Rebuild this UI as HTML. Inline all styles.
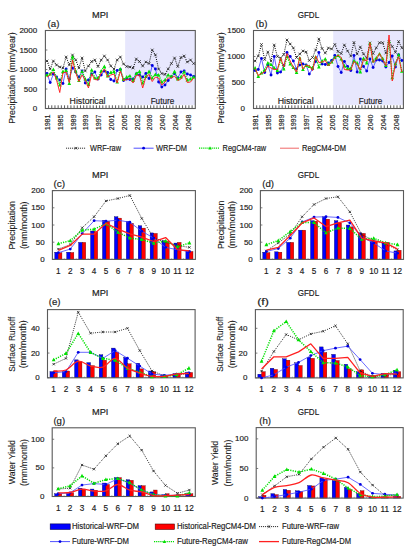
<!DOCTYPE html>
<html><head><meta charset="utf-8"><style>
html,body{margin:0;padding:0;background:#fff;width:410px;height:550px;overflow:hidden}
svg{display:block;font-family:"Liberation Sans", sans-serif}
</style></head><body>
<svg width="410" height="550" viewBox="0 0 410 550">
<rect width="410" height="550" fill="#fff"/>
<text x="100.20" y="18.00" font-size="9.5" text-anchor="middle" fill="#1a1a1a" stroke="#1a1a1a" stroke-width="0.18" textLength="16.4" lengthAdjust="spacingAndGlyphs" >MPI</text>
<text x="308.40" y="18.00" font-size="9.5" text-anchor="middle" fill="#1a1a1a" stroke="#1a1a1a" stroke-width="0.18" textLength="21.5" lengthAdjust="spacingAndGlyphs" >GFDL</text>
<text x="100.20" y="178.20" font-size="9.5" text-anchor="middle" fill="#1a1a1a" stroke="#1a1a1a" stroke-width="0.18" textLength="16.4" lengthAdjust="spacingAndGlyphs" >MPI</text>
<text x="308.40" y="178.20" font-size="9.5" text-anchor="middle" fill="#1a1a1a" stroke="#1a1a1a" stroke-width="0.18" textLength="21.5" lengthAdjust="spacingAndGlyphs" >GFDL</text>
<text x="100.20" y="296.30" font-size="9.5" text-anchor="middle" fill="#1a1a1a" stroke="#1a1a1a" stroke-width="0.18" textLength="16.4" lengthAdjust="spacingAndGlyphs" >MPI</text>
<text x="308.40" y="296.30" font-size="9.5" text-anchor="middle" fill="#1a1a1a" stroke="#1a1a1a" stroke-width="0.18" textLength="21.5" lengthAdjust="spacingAndGlyphs" >GFDL</text>
<text x="100.20" y="414.70" font-size="9.5" text-anchor="middle" fill="#1a1a1a" stroke="#1a1a1a" stroke-width="0.18" textLength="16.4" lengthAdjust="spacingAndGlyphs" >MPI</text>
<text x="308.40" y="414.70" font-size="9.5" text-anchor="middle" fill="#1a1a1a" stroke="#1a1a1a" stroke-width="0.18" textLength="21.5" lengthAdjust="spacingAndGlyphs" >GFDL</text>
<rect x="125.13" y="30.50" width="70.17" height="74.40" fill="#e7e7fd"/>
<path d="M48.59,108.50V105.30M51.78,108.50V105.30M54.97,108.50V105.30M58.16,108.50V105.30M61.35,108.50V105.30M64.54,108.50V105.30M67.73,108.50V105.30M70.91,108.50V105.30M74.10,108.50V105.30M77.29,108.50V105.30M80.48,108.50V105.30M83.67,108.50V105.30M86.86,108.50V105.30M90.05,108.50V105.30M93.24,108.50V105.30M96.43,108.50V105.30M99.62,108.50V105.30M102.81,108.50V105.30M106.00,108.50V105.30M109.19,108.50V105.30M112.38,108.50V105.30M115.57,108.50V105.30M118.76,108.50V105.30M121.94,108.50V105.30M125.13,108.50V105.30M128.32,108.50V105.30M131.51,108.50V105.30M134.70,108.50V105.30M137.89,108.50V105.30M141.08,108.50V105.30M144.27,108.50V105.30M147.46,108.50V105.30M150.65,108.50V105.30M153.84,108.50V105.30M157.03,108.50V105.30M160.22,108.50V105.30M163.41,108.50V105.30M166.60,108.50V105.30M169.79,108.50V105.30M172.97,108.50V105.30M176.16,108.50V105.30M179.35,108.50V105.30M182.54,108.50V105.30M185.73,108.50V105.30M188.92,108.50V105.30M192.11,108.50V105.30" stroke="#333" stroke-width="0.8"/>
<path d="M45.40,30.50H47.40M45.40,50.00H47.40M45.40,69.50H47.40M45.40,89.00H47.40M45.40,108.50H47.40" stroke="#5a5a5a" stroke-width="0.8"/>
<rect x="45.40" y="30.50" width="149.90" height="78.00" fill="none" stroke="#5a5a5a" stroke-width="1.1"/>
<text x="37.20" y="33.40" font-size="8" text-anchor="end" fill="#1a1a1a" stroke="#1a1a1a" stroke-width="0.16" >2000</text>
<text x="37.20" y="52.90" font-size="8" text-anchor="end" fill="#1a1a1a" stroke="#1a1a1a" stroke-width="0.16" >1500</text>
<text x="37.20" y="72.40" font-size="8" text-anchor="end" fill="#1a1a1a" stroke="#1a1a1a" stroke-width="0.16" >1000</text>
<text x="37.20" y="91.90" font-size="8" text-anchor="end" fill="#1a1a1a" stroke="#1a1a1a" stroke-width="0.16" >500</text>
<text x="37.20" y="111.40" font-size="8" text-anchor="end" fill="#1a1a1a" stroke="#1a1a1a" stroke-width="0.16" >0</text>
<text x="49.90" y="114.60" font-size="8" text-anchor="end" fill="#1a1a1a" stroke="#1a1a1a" stroke-width="0.16" textLength="15.6" lengthAdjust="spacingAndGlyphs" transform="rotate(-90 49.90 114.60)" >1981</text>
<text x="62.71" y="114.60" font-size="8" text-anchor="end" fill="#1a1a1a" stroke="#1a1a1a" stroke-width="0.16" textLength="15.6" lengthAdjust="spacingAndGlyphs" transform="rotate(-90 62.71 114.60)" >1985</text>
<text x="75.52" y="114.60" font-size="8" text-anchor="end" fill="#1a1a1a" stroke="#1a1a1a" stroke-width="0.16" textLength="15.6" lengthAdjust="spacingAndGlyphs" transform="rotate(-90 75.52 114.60)" >1989</text>
<text x="88.32" y="114.60" font-size="8" text-anchor="end" fill="#1a1a1a" stroke="#1a1a1a" stroke-width="0.16" textLength="15.6" lengthAdjust="spacingAndGlyphs" transform="rotate(-90 88.32 114.60)" >1993</text>
<text x="101.13" y="114.60" font-size="8" text-anchor="end" fill="#1a1a1a" stroke="#1a1a1a" stroke-width="0.16" textLength="15.6" lengthAdjust="spacingAndGlyphs" transform="rotate(-90 101.13 114.60)" >1997</text>
<text x="113.94" y="114.60" font-size="8" text-anchor="end" fill="#1a1a1a" stroke="#1a1a1a" stroke-width="0.16" textLength="15.6" lengthAdjust="spacingAndGlyphs" transform="rotate(-90 113.94 114.60)" >2001</text>
<text x="126.75" y="114.60" font-size="8" text-anchor="end" fill="#1a1a1a" stroke="#1a1a1a" stroke-width="0.16" textLength="15.6" lengthAdjust="spacingAndGlyphs" transform="rotate(-90 126.75 114.60)" >2005</text>
<text x="139.56" y="114.60" font-size="8" text-anchor="end" fill="#1a1a1a" stroke="#1a1a1a" stroke-width="0.16" textLength="15.6" lengthAdjust="spacingAndGlyphs" transform="rotate(-90 139.56 114.60)" >2032</text>
<text x="152.36" y="114.60" font-size="8" text-anchor="end" fill="#1a1a1a" stroke="#1a1a1a" stroke-width="0.16" textLength="15.6" lengthAdjust="spacingAndGlyphs" transform="rotate(-90 152.36 114.60)" >2036</text>
<text x="165.17" y="114.60" font-size="8" text-anchor="end" fill="#1a1a1a" stroke="#1a1a1a" stroke-width="0.16" textLength="15.6" lengthAdjust="spacingAndGlyphs" transform="rotate(-90 165.17 114.60)" >2040</text>
<text x="177.98" y="114.60" font-size="8" text-anchor="end" fill="#1a1a1a" stroke="#1a1a1a" stroke-width="0.16" textLength="15.6" lengthAdjust="spacingAndGlyphs" transform="rotate(-90 177.98 114.60)" >2044</text>
<text x="190.79" y="114.60" font-size="8" text-anchor="end" fill="#1a1a1a" stroke="#1a1a1a" stroke-width="0.16" textLength="15.6" lengthAdjust="spacingAndGlyphs" transform="rotate(-90 190.79 114.60)" >2048</text>
<polyline points="46.99,61.00 50.18,69.00 53.37,61.00 56.56,65.00 59.75,67.00 62.94,68.00 66.13,57.00 69.32,65.00 72.51,55.00 75.70,60.00 78.89,68.00 82.08,58.00 85.27,71.00 88.46,66.00 91.65,61.50 94.84,60.00 98.02,66.50 101.21,60.00 104.40,56.00 107.59,60.00 110.78,66.00 113.97,69.00 117.16,60.00 120.35,57.00 123.54,64.00 126.73,66.50 129.92,67.00 133.11,68.00 136.30,59.00 139.49,61.50 142.68,66.00 145.86,62.00 149.05,63.50 152.24,50.00 155.43,55.00 158.62,69.00 161.81,73.50 165.00,74.50 168.19,69.00 171.38,63.50 174.57,58.00 177.76,66.50 180.95,57.50 184.14,56.00 187.33,62.00 190.52,60.00 193.71,63.50" fill="none" stroke="#000" stroke-width="1.0" stroke-dasharray="1,1.2" stroke-linejoin="round" opacity="1"/>
<path d="M45.69,59.70L48.29,62.30M45.69,62.30L48.29,59.70" stroke="#222222" stroke-width="0.8"/>
<path d="M48.88,67.70L51.48,70.30M48.88,70.30L51.48,67.70" stroke="#222222" stroke-width="0.8"/>
<path d="M52.07,59.70L54.67,62.30M52.07,62.30L54.67,59.70" stroke="#222222" stroke-width="0.8"/>
<path d="M55.26,63.70L57.86,66.30M55.26,66.30L57.86,63.70" stroke="#222222" stroke-width="0.8"/>
<path d="M58.45,65.70L61.05,68.30M58.45,68.30L61.05,65.70" stroke="#222222" stroke-width="0.8"/>
<path d="M61.64,66.70L64.24,69.30M61.64,69.30L64.24,66.70" stroke="#222222" stroke-width="0.8"/>
<path d="M64.83,55.70L67.43,58.30M64.83,58.30L67.43,55.70" stroke="#222222" stroke-width="0.8"/>
<path d="M68.02,63.70L70.62,66.30M68.02,66.30L70.62,63.70" stroke="#222222" stroke-width="0.8"/>
<path d="M71.21,53.70L73.81,56.30M71.21,56.30L73.81,53.70" stroke="#222222" stroke-width="0.8"/>
<path d="M74.40,58.70L77.00,61.30M74.40,61.30L77.00,58.70" stroke="#222222" stroke-width="0.8"/>
<path d="M77.59,66.70L80.19,69.30M77.59,69.30L80.19,66.70" stroke="#222222" stroke-width="0.8"/>
<path d="M80.78,56.70L83.38,59.30M80.78,59.30L83.38,56.70" stroke="#222222" stroke-width="0.8"/>
<path d="M83.97,69.70L86.57,72.30M83.97,72.30L86.57,69.70" stroke="#222222" stroke-width="0.8"/>
<path d="M87.16,64.70L89.76,67.30M87.16,67.30L89.76,64.70" stroke="#222222" stroke-width="0.8"/>
<path d="M90.35,60.20L92.95,62.80M90.35,62.80L92.95,60.20" stroke="#222222" stroke-width="0.8"/>
<path d="M93.54,58.70L96.14,61.30M93.54,61.30L96.14,58.70" stroke="#222222" stroke-width="0.8"/>
<path d="M96.72,65.20L99.32,67.80M96.72,67.80L99.32,65.20" stroke="#222222" stroke-width="0.8"/>
<path d="M99.91,58.70L102.51,61.30M99.91,61.30L102.51,58.70" stroke="#222222" stroke-width="0.8"/>
<path d="M103.10,54.70L105.70,57.30M103.10,57.30L105.70,54.70" stroke="#222222" stroke-width="0.8"/>
<path d="M106.29,58.70L108.89,61.30M106.29,61.30L108.89,58.70" stroke="#222222" stroke-width="0.8"/>
<path d="M109.48,64.70L112.08,67.30M109.48,67.30L112.08,64.70" stroke="#222222" stroke-width="0.8"/>
<path d="M112.67,67.70L115.27,70.30M112.67,70.30L115.27,67.70" stroke="#222222" stroke-width="0.8"/>
<path d="M115.86,58.70L118.46,61.30M115.86,61.30L118.46,58.70" stroke="#222222" stroke-width="0.8"/>
<path d="M119.05,55.70L121.65,58.30M119.05,58.30L121.65,55.70" stroke="#222222" stroke-width="0.8"/>
<path d="M122.24,62.70L124.84,65.30M122.24,65.30L124.84,62.70" stroke="#222222" stroke-width="0.8"/>
<path d="M125.43,65.20L128.03,67.80M125.43,67.80L128.03,65.20" stroke="#222222" stroke-width="0.8"/>
<path d="M128.62,65.70L131.22,68.30M128.62,68.30L131.22,65.70" stroke="#222222" stroke-width="0.8"/>
<path d="M131.81,66.70L134.41,69.30M131.81,69.30L134.41,66.70" stroke="#222222" stroke-width="0.8"/>
<path d="M135.00,57.70L137.60,60.30M135.00,60.30L137.60,57.70" stroke="#222222" stroke-width="0.8"/>
<path d="M138.19,60.20L140.79,62.80M138.19,62.80L140.79,60.20" stroke="#222222" stroke-width="0.8"/>
<path d="M141.38,64.70L143.98,67.30M141.38,67.30L143.98,64.70" stroke="#222222" stroke-width="0.8"/>
<path d="M144.56,60.70L147.16,63.30M144.56,63.30L147.16,60.70" stroke="#222222" stroke-width="0.8"/>
<path d="M147.75,62.20L150.35,64.80M147.75,64.80L150.35,62.20" stroke="#222222" stroke-width="0.8"/>
<path d="M150.94,48.70L153.54,51.30M150.94,51.30L153.54,48.70" stroke="#222222" stroke-width="0.8"/>
<path d="M154.13,53.70L156.73,56.30M154.13,56.30L156.73,53.70" stroke="#222222" stroke-width="0.8"/>
<path d="M157.32,67.70L159.92,70.30M157.32,70.30L159.92,67.70" stroke="#222222" stroke-width="0.8"/>
<path d="M160.51,72.20L163.11,74.80M160.51,74.80L163.11,72.20" stroke="#222222" stroke-width="0.8"/>
<path d="M163.70,73.20L166.30,75.80M163.70,75.80L166.30,73.20" stroke="#222222" stroke-width="0.8"/>
<path d="M166.89,67.70L169.49,70.30M166.89,70.30L169.49,67.70" stroke="#222222" stroke-width="0.8"/>
<path d="M170.08,62.20L172.68,64.80M170.08,64.80L172.68,62.20" stroke="#222222" stroke-width="0.8"/>
<path d="M173.27,56.70L175.87,59.30M173.27,59.30L175.87,56.70" stroke="#222222" stroke-width="0.8"/>
<path d="M176.46,65.20L179.06,67.80M176.46,67.80L179.06,65.20" stroke="#222222" stroke-width="0.8"/>
<path d="M179.65,56.20L182.25,58.80M179.65,58.80L182.25,56.20" stroke="#222222" stroke-width="0.8"/>
<path d="M182.84,54.70L185.44,57.30M182.84,57.30L185.44,54.70" stroke="#222222" stroke-width="0.8"/>
<path d="M186.03,60.70L188.63,63.30M186.03,63.30L188.63,60.70" stroke="#222222" stroke-width="0.8"/>
<path d="M189.22,58.70L191.82,61.30M189.22,61.30L191.82,58.70" stroke="#222222" stroke-width="0.8"/>
<path d="M192.41,62.20L195.01,64.80M192.41,64.80L195.01,62.20" stroke="#222222" stroke-width="0.8"/>
<polyline points="46.99,73.50 50.18,82.50 53.37,74.00 56.56,77.00 59.75,80.00 62.94,83.50 66.13,69.00 69.32,79.00 72.51,68.00 75.70,72.00 78.89,77.00 82.08,71.00 85.27,83.00 88.46,80.00 91.65,74.00 94.84,72.00 98.02,79.00 101.21,75.00 104.40,71.00 107.59,72.50 110.78,79.50 113.97,81.00 117.16,70.50 120.35,69.50 123.54,80.50 126.73,79.00 129.92,79.50 133.11,79.00 136.30,74.00 139.49,75.00 142.68,77.00 145.86,73.50 149.05,78.50 152.24,65.50 155.43,69.00 158.62,82.00 161.81,87.00 165.00,85.00 168.19,80.50 171.38,77.00 174.57,73.50 177.76,78.00 180.95,72.00 184.14,71.00 187.33,74.00 190.52,75.00 193.71,76.50" fill="none" stroke="#5050ff" stroke-width="0.9" stroke-linejoin="round" opacity="1"/>
<circle cx="46.99" cy="73.50" r="1.45" fill="#0000e0"/>
<circle cx="50.18" cy="82.50" r="1.45" fill="#0000e0"/>
<circle cx="53.37" cy="74.00" r="1.45" fill="#0000e0"/>
<circle cx="56.56" cy="77.00" r="1.45" fill="#0000e0"/>
<circle cx="59.75" cy="80.00" r="1.45" fill="#0000e0"/>
<circle cx="62.94" cy="83.50" r="1.45" fill="#0000e0"/>
<circle cx="66.13" cy="69.00" r="1.45" fill="#0000e0"/>
<circle cx="69.32" cy="79.00" r="1.45" fill="#0000e0"/>
<circle cx="72.51" cy="68.00" r="1.45" fill="#0000e0"/>
<circle cx="75.70" cy="72.00" r="1.45" fill="#0000e0"/>
<circle cx="78.89" cy="77.00" r="1.45" fill="#0000e0"/>
<circle cx="82.08" cy="71.00" r="1.45" fill="#0000e0"/>
<circle cx="85.27" cy="83.00" r="1.45" fill="#0000e0"/>
<circle cx="88.46" cy="80.00" r="1.45" fill="#0000e0"/>
<circle cx="91.65" cy="74.00" r="1.45" fill="#0000e0"/>
<circle cx="94.84" cy="72.00" r="1.45" fill="#0000e0"/>
<circle cx="98.02" cy="79.00" r="1.45" fill="#0000e0"/>
<circle cx="101.21" cy="75.00" r="1.45" fill="#0000e0"/>
<circle cx="104.40" cy="71.00" r="1.45" fill="#0000e0"/>
<circle cx="107.59" cy="72.50" r="1.45" fill="#0000e0"/>
<circle cx="110.78" cy="79.50" r="1.45" fill="#0000e0"/>
<circle cx="113.97" cy="81.00" r="1.45" fill="#0000e0"/>
<circle cx="117.16" cy="70.50" r="1.45" fill="#0000e0"/>
<circle cx="120.35" cy="69.50" r="1.45" fill="#0000e0"/>
<circle cx="123.54" cy="80.50" r="1.45" fill="#0000e0"/>
<circle cx="126.73" cy="79.00" r="1.45" fill="#0000e0"/>
<circle cx="129.92" cy="79.50" r="1.45" fill="#0000e0"/>
<circle cx="133.11" cy="79.00" r="1.45" fill="#0000e0"/>
<circle cx="136.30" cy="74.00" r="1.45" fill="#0000e0"/>
<circle cx="139.49" cy="75.00" r="1.45" fill="#0000e0"/>
<circle cx="142.68" cy="77.00" r="1.45" fill="#0000e0"/>
<circle cx="145.86" cy="73.50" r="1.45" fill="#0000e0"/>
<circle cx="149.05" cy="78.50" r="1.45" fill="#0000e0"/>
<circle cx="152.24" cy="65.50" r="1.45" fill="#0000e0"/>
<circle cx="155.43" cy="69.00" r="1.45" fill="#0000e0"/>
<circle cx="158.62" cy="82.00" r="1.45" fill="#0000e0"/>
<circle cx="161.81" cy="87.00" r="1.45" fill="#0000e0"/>
<circle cx="165.00" cy="85.00" r="1.45" fill="#0000e0"/>
<circle cx="168.19" cy="80.50" r="1.45" fill="#0000e0"/>
<circle cx="171.38" cy="77.00" r="1.45" fill="#0000e0"/>
<circle cx="174.57" cy="73.50" r="1.45" fill="#0000e0"/>
<circle cx="177.76" cy="78.00" r="1.45" fill="#0000e0"/>
<circle cx="180.95" cy="72.00" r="1.45" fill="#0000e0"/>
<circle cx="184.14" cy="71.00" r="1.45" fill="#0000e0"/>
<circle cx="187.33" cy="74.00" r="1.45" fill="#0000e0"/>
<circle cx="190.52" cy="75.00" r="1.45" fill="#0000e0"/>
<circle cx="193.71" cy="76.50" r="1.45" fill="#0000e0"/>
<polyline points="46.99,75.00 50.18,74.00 53.37,69.50 56.56,78.00 59.75,85.00 62.94,71.50 66.13,70.50 69.32,83.50 72.51,57.00 75.70,71.00 78.89,80.50 82.08,71.50 85.27,79.00 88.46,84.50 91.65,70.00 94.84,78.00 98.02,78.00 101.21,71.00 104.40,66.50 107.59,76.00 110.78,72.50 113.97,71.50 117.16,82.00 120.35,69.00 123.54,79.50 126.73,77.00 129.92,76.00 133.11,80.50 136.30,73.50 139.49,71.50 142.68,83.00 145.86,76.50 149.05,71.50 152.24,78.00 155.43,74.50 158.62,75.00 161.81,82.00 165.00,80.00 168.19,75.00 171.38,76.50 174.57,71.50 177.76,79.00 180.95,77.00 184.14,72.00 187.33,80.00 190.52,79.00 193.71,77.00" fill="none" stroke="#00e000" stroke-width="1.4" stroke-dasharray="1.2,1.1" stroke-linejoin="round" opacity="1"/>
<path d="M46.99,73.02L48.79,76.44L45.19,76.44Z" fill="#00e000"/>
<path d="M50.18,72.02L51.98,75.44L48.38,75.44Z" fill="#00e000"/>
<path d="M53.37,67.52L55.17,70.94L51.57,70.94Z" fill="#00e000"/>
<path d="M56.56,76.02L58.36,79.44L54.76,79.44Z" fill="#00e000"/>
<path d="M59.75,83.02L61.55,86.44L57.95,86.44Z" fill="#00e000"/>
<path d="M62.94,69.52L64.74,72.94L61.14,72.94Z" fill="#00e000"/>
<path d="M66.13,68.52L67.93,71.94L64.33,71.94Z" fill="#00e000"/>
<path d="M69.32,81.52L71.12,84.94L67.52,84.94Z" fill="#00e000"/>
<path d="M72.51,55.02L74.31,58.44L70.71,58.44Z" fill="#00e000"/>
<path d="M75.70,69.02L77.50,72.44L73.90,72.44Z" fill="#00e000"/>
<path d="M78.89,78.52L80.69,81.94L77.09,81.94Z" fill="#00e000"/>
<path d="M82.08,69.52L83.88,72.94L80.28,72.94Z" fill="#00e000"/>
<path d="M85.27,77.02L87.07,80.44L83.47,80.44Z" fill="#00e000"/>
<path d="M88.46,82.52L90.26,85.94L86.66,85.94Z" fill="#00e000"/>
<path d="M91.65,68.02L93.45,71.44L89.85,71.44Z" fill="#00e000"/>
<path d="M94.84,76.02L96.64,79.44L93.04,79.44Z" fill="#00e000"/>
<path d="M98.02,76.02L99.82,79.44L96.22,79.44Z" fill="#00e000"/>
<path d="M101.21,69.02L103.01,72.44L99.41,72.44Z" fill="#00e000"/>
<path d="M104.40,64.52L106.20,67.94L102.60,67.94Z" fill="#00e000"/>
<path d="M107.59,74.02L109.39,77.44L105.79,77.44Z" fill="#00e000"/>
<path d="M110.78,70.52L112.58,73.94L108.98,73.94Z" fill="#00e000"/>
<path d="M113.97,69.52L115.77,72.94L112.17,72.94Z" fill="#00e000"/>
<path d="M117.16,80.02L118.96,83.44L115.36,83.44Z" fill="#00e000"/>
<path d="M120.35,67.02L122.15,70.44L118.55,70.44Z" fill="#00e000"/>
<path d="M123.54,77.52L125.34,80.94L121.74,80.94Z" fill="#00e000"/>
<path d="M126.73,75.02L128.53,78.44L124.93,78.44Z" fill="#00e000"/>
<path d="M129.92,74.02L131.72,77.44L128.12,77.44Z" fill="#00e000"/>
<path d="M133.11,78.52L134.91,81.94L131.31,81.94Z" fill="#00e000"/>
<path d="M136.30,71.52L138.10,74.94L134.50,74.94Z" fill="#00e000"/>
<path d="M139.49,69.52L141.29,72.94L137.69,72.94Z" fill="#00e000"/>
<path d="M142.68,81.02L144.48,84.44L140.88,84.44Z" fill="#00e000"/>
<path d="M145.86,74.52L147.66,77.94L144.06,77.94Z" fill="#00e000"/>
<path d="M149.05,69.52L150.85,72.94L147.25,72.94Z" fill="#00e000"/>
<path d="M152.24,76.02L154.04,79.44L150.44,79.44Z" fill="#00e000"/>
<path d="M155.43,72.52L157.23,75.94L153.63,75.94Z" fill="#00e000"/>
<path d="M158.62,73.02L160.42,76.44L156.82,76.44Z" fill="#00e000"/>
<path d="M161.81,80.02L163.61,83.44L160.01,83.44Z" fill="#00e000"/>
<path d="M165.00,78.02L166.80,81.44L163.20,81.44Z" fill="#00e000"/>
<path d="M168.19,73.02L169.99,76.44L166.39,76.44Z" fill="#00e000"/>
<path d="M171.38,74.52L173.18,77.94L169.58,77.94Z" fill="#00e000"/>
<path d="M174.57,69.52L176.37,72.94L172.77,72.94Z" fill="#00e000"/>
<path d="M177.76,77.02L179.56,80.44L175.96,80.44Z" fill="#00e000"/>
<path d="M180.95,75.02L182.75,78.44L179.15,78.44Z" fill="#00e000"/>
<path d="M184.14,70.02L185.94,73.44L182.34,73.44Z" fill="#00e000"/>
<path d="M187.33,78.02L189.13,81.44L185.53,81.44Z" fill="#00e000"/>
<path d="M190.52,77.02L192.32,80.44L188.72,80.44Z" fill="#00e000"/>
<path d="M193.71,75.02L195.51,78.44L191.91,78.44Z" fill="#00e000"/>
<polyline points="46.99,77.00 50.18,75.00 53.37,72.00 56.56,80.00 59.75,92.50 62.94,73.00 66.13,72.00 69.32,82.50 72.51,60.00 75.70,72.50 78.89,81.50 82.08,75.00 85.27,80.00 88.46,88.00 91.65,74.00 94.84,79.50 98.02,80.00 101.21,73.00 104.40,69.00 107.59,77.00 110.78,75.00 113.97,74.00 117.16,83.00 120.35,71.00 123.54,80.50 126.73,79.50 129.92,79.00 133.11,83.00 136.30,75.50 139.49,75.00 142.68,88.00 145.86,77.00 149.05,74.50 152.24,81.50 155.43,77.00 158.62,78.00 161.81,85.00 165.00,82.00 168.19,78.00 171.38,78.00 174.57,76.00 177.76,80.50 180.95,79.00 184.14,74.50 187.33,82.50 190.52,82.00 193.71,78.00" fill="none" stroke="#ff2020" stroke-width="0.95" stroke-linejoin="round" opacity="1"/>
<text x="47.60" y="27.00" font-size="9.6" text-anchor="start" fill="#1a1a1a" stroke="#1a1a1a" stroke-width="0.16" textLength="11.8" lengthAdjust="spacingAndGlyphs" >(a)</text>
<text x="87.57" y="103.60" font-size="9.2" text-anchor="middle" fill="#1a1a1a" stroke="#1a1a1a" stroke-width="0.16" textLength="36" lengthAdjust="spacingAndGlyphs" >Historical</text>
<text x="162.42" y="103.60" font-size="9.2" text-anchor="middle" fill="#1a1a1a" stroke="#1a1a1a" stroke-width="0.16" textLength="23.5" lengthAdjust="spacingAndGlyphs" >Future</text>
<text x="15.00" y="78.00" font-size="8.8" text-anchor="middle" fill="#1a1a1a" stroke="#1a1a1a" stroke-width="0.1" textLength="91.5" lengthAdjust="spacingAndGlyphs" transform="rotate(-90 15.00 78.00)" >Precipitation (mm/year)</text>
<rect x="333.23" y="30.50" width="70.17" height="74.40" fill="#e7e7fd"/>
<path d="M256.69,108.50V105.30M259.88,108.50V105.30M263.07,108.50V105.30M266.26,108.50V105.30M269.45,108.50V105.30M272.64,108.50V105.30M275.83,108.50V105.30M279.01,108.50V105.30M282.20,108.50V105.30M285.39,108.50V105.30M288.58,108.50V105.30M291.77,108.50V105.30M294.96,108.50V105.30M298.15,108.50V105.30M301.34,108.50V105.30M304.53,108.50V105.30M307.72,108.50V105.30M310.91,108.50V105.30M314.10,108.50V105.30M317.29,108.50V105.30M320.48,108.50V105.30M323.67,108.50V105.30M326.86,108.50V105.30M330.04,108.50V105.30M333.23,108.50V105.30M336.42,108.50V105.30M339.61,108.50V105.30M342.80,108.50V105.30M345.99,108.50V105.30M349.18,108.50V105.30M352.37,108.50V105.30M355.56,108.50V105.30M358.75,108.50V105.30M361.94,108.50V105.30M365.13,108.50V105.30M368.32,108.50V105.30M371.51,108.50V105.30M374.70,108.50V105.30M377.89,108.50V105.30M381.07,108.50V105.30M384.26,108.50V105.30M387.45,108.50V105.30M390.64,108.50V105.30M393.83,108.50V105.30M397.02,108.50V105.30M400.21,108.50V105.30" stroke="#333" stroke-width="0.8"/>
<path d="M253.50,30.50H255.50M253.50,56.50H255.50M253.50,82.50H255.50M253.50,108.50H255.50" stroke="#5a5a5a" stroke-width="0.8"/>
<rect x="253.50" y="30.50" width="149.90" height="78.00" fill="none" stroke="#5a5a5a" stroke-width="1.1"/>
<text x="245.00" y="33.40" font-size="8" text-anchor="end" fill="#1a1a1a" stroke="#1a1a1a" stroke-width="0.16" >1500</text>
<text x="245.00" y="59.40" font-size="8" text-anchor="end" fill="#1a1a1a" stroke="#1a1a1a" stroke-width="0.16" >1000</text>
<text x="245.00" y="85.40" font-size="8" text-anchor="end" fill="#1a1a1a" stroke="#1a1a1a" stroke-width="0.16" >500</text>
<text x="245.00" y="111.40" font-size="8" text-anchor="end" fill="#1a1a1a" stroke="#1a1a1a" stroke-width="0.16" >0</text>
<text x="258.00" y="114.60" font-size="8" text-anchor="end" fill="#1a1a1a" stroke="#1a1a1a" stroke-width="0.16" textLength="15.6" lengthAdjust="spacingAndGlyphs" transform="rotate(-90 258.00 114.60)" >1981</text>
<text x="270.81" y="114.60" font-size="8" text-anchor="end" fill="#1a1a1a" stroke="#1a1a1a" stroke-width="0.16" textLength="15.6" lengthAdjust="spacingAndGlyphs" transform="rotate(-90 270.81 114.60)" >1985</text>
<text x="283.62" y="114.60" font-size="8" text-anchor="end" fill="#1a1a1a" stroke="#1a1a1a" stroke-width="0.16" textLength="15.6" lengthAdjust="spacingAndGlyphs" transform="rotate(-90 283.62 114.60)" >1989</text>
<text x="296.42" y="114.60" font-size="8" text-anchor="end" fill="#1a1a1a" stroke="#1a1a1a" stroke-width="0.16" textLength="15.6" lengthAdjust="spacingAndGlyphs" transform="rotate(-90 296.42 114.60)" >1993</text>
<text x="309.23" y="114.60" font-size="8" text-anchor="end" fill="#1a1a1a" stroke="#1a1a1a" stroke-width="0.16" textLength="15.6" lengthAdjust="spacingAndGlyphs" transform="rotate(-90 309.23 114.60)" >1997</text>
<text x="322.04" y="114.60" font-size="8" text-anchor="end" fill="#1a1a1a" stroke="#1a1a1a" stroke-width="0.16" textLength="15.6" lengthAdjust="spacingAndGlyphs" transform="rotate(-90 322.04 114.60)" >2001</text>
<text x="334.85" y="114.60" font-size="8" text-anchor="end" fill="#1a1a1a" stroke="#1a1a1a" stroke-width="0.16" textLength="15.6" lengthAdjust="spacingAndGlyphs" transform="rotate(-90 334.85 114.60)" >2005</text>
<text x="347.66" y="114.60" font-size="8" text-anchor="end" fill="#1a1a1a" stroke="#1a1a1a" stroke-width="0.16" textLength="15.6" lengthAdjust="spacingAndGlyphs" transform="rotate(-90 347.66 114.60)" >2032</text>
<text x="360.46" y="114.60" font-size="8" text-anchor="end" fill="#1a1a1a" stroke="#1a1a1a" stroke-width="0.16" textLength="15.6" lengthAdjust="spacingAndGlyphs" transform="rotate(-90 360.46 114.60)" >2036</text>
<text x="373.27" y="114.60" font-size="8" text-anchor="end" fill="#1a1a1a" stroke="#1a1a1a" stroke-width="0.16" textLength="15.6" lengthAdjust="spacingAndGlyphs" transform="rotate(-90 373.27 114.60)" >2040</text>
<text x="386.08" y="114.60" font-size="8" text-anchor="end" fill="#1a1a1a" stroke="#1a1a1a" stroke-width="0.16" textLength="15.6" lengthAdjust="spacingAndGlyphs" transform="rotate(-90 386.08 114.60)" >2044</text>
<text x="398.89" y="114.60" font-size="8" text-anchor="end" fill="#1a1a1a" stroke="#1a1a1a" stroke-width="0.16" textLength="15.6" lengthAdjust="spacingAndGlyphs" transform="rotate(-90 398.89 114.60)" >2048</text>
<polyline points="255.09,61.00 258.28,56.00 261.47,44.50 264.66,59.50 267.85,52.00 271.04,61.00 274.23,45.00 277.42,56.50 280.61,58.00 283.80,54.50 286.99,40.00 290.18,44.00 293.37,48.00 296.56,57.50 299.75,54.00 302.94,51.00 306.12,52.00 309.31,60.50 312.50,57.50 315.69,50.00 318.88,39.00 322.07,48.50 325.26,53.00 328.45,48.00 331.64,49.00 334.83,44.50 338.02,51.50 341.21,53.50 344.40,45.00 347.59,51.00 350.78,56.00 353.96,42.50 357.15,54.00 360.34,47.00 363.53,54.00 366.72,58.00 369.91,43.00 373.10,53.50 376.29,47.80 379.48,42.70 382.67,42.70 385.86,53.00 389.05,41.50 392.24,46.50 395.43,52.30 398.62,41.50 401.81,47.80" fill="none" stroke="#000" stroke-width="1.0" stroke-dasharray="1,1.2" stroke-linejoin="round" opacity="1"/>
<path d="M253.79,59.70L256.39,62.30M253.79,62.30L256.39,59.70" stroke="#222222" stroke-width="0.8"/>
<path d="M256.98,54.70L259.58,57.30M256.98,57.30L259.58,54.70" stroke="#222222" stroke-width="0.8"/>
<path d="M260.17,43.20L262.77,45.80M260.17,45.80L262.77,43.20" stroke="#222222" stroke-width="0.8"/>
<path d="M263.36,58.20L265.96,60.80M263.36,60.80L265.96,58.20" stroke="#222222" stroke-width="0.8"/>
<path d="M266.55,50.70L269.15,53.30M266.55,53.30L269.15,50.70" stroke="#222222" stroke-width="0.8"/>
<path d="M269.74,59.70L272.34,62.30M269.74,62.30L272.34,59.70" stroke="#222222" stroke-width="0.8"/>
<path d="M272.93,43.70L275.53,46.30M272.93,46.30L275.53,43.70" stroke="#222222" stroke-width="0.8"/>
<path d="M276.12,55.20L278.72,57.80M276.12,57.80L278.72,55.20" stroke="#222222" stroke-width="0.8"/>
<path d="M279.31,56.70L281.91,59.30M279.31,59.30L281.91,56.70" stroke="#222222" stroke-width="0.8"/>
<path d="M282.50,53.20L285.10,55.80M282.50,55.80L285.10,53.20" stroke="#222222" stroke-width="0.8"/>
<path d="M285.69,38.70L288.29,41.30M285.69,41.30L288.29,38.70" stroke="#222222" stroke-width="0.8"/>
<path d="M288.88,42.70L291.48,45.30M288.88,45.30L291.48,42.70" stroke="#222222" stroke-width="0.8"/>
<path d="M292.07,46.70L294.67,49.30M292.07,49.30L294.67,46.70" stroke="#222222" stroke-width="0.8"/>
<path d="M295.26,56.20L297.86,58.80M295.26,58.80L297.86,56.20" stroke="#222222" stroke-width="0.8"/>
<path d="M298.45,52.70L301.05,55.30M298.45,55.30L301.05,52.70" stroke="#222222" stroke-width="0.8"/>
<path d="M301.64,49.70L304.24,52.30M301.64,52.30L304.24,49.70" stroke="#222222" stroke-width="0.8"/>
<path d="M304.82,50.70L307.42,53.30M304.82,53.30L307.42,50.70" stroke="#222222" stroke-width="0.8"/>
<path d="M308.01,59.20L310.61,61.80M308.01,61.80L310.61,59.20" stroke="#222222" stroke-width="0.8"/>
<path d="M311.20,56.20L313.80,58.80M311.20,58.80L313.80,56.20" stroke="#222222" stroke-width="0.8"/>
<path d="M314.39,48.70L316.99,51.30M314.39,51.30L316.99,48.70" stroke="#222222" stroke-width="0.8"/>
<path d="M317.58,37.70L320.18,40.30M317.58,40.30L320.18,37.70" stroke="#222222" stroke-width="0.8"/>
<path d="M320.77,47.20L323.37,49.80M320.77,49.80L323.37,47.20" stroke="#222222" stroke-width="0.8"/>
<path d="M323.96,51.70L326.56,54.30M323.96,54.30L326.56,51.70" stroke="#222222" stroke-width="0.8"/>
<path d="M327.15,46.70L329.75,49.30M327.15,49.30L329.75,46.70" stroke="#222222" stroke-width="0.8"/>
<path d="M330.34,47.70L332.94,50.30M330.34,50.30L332.94,47.70" stroke="#222222" stroke-width="0.8"/>
<path d="M333.53,43.20L336.13,45.80M333.53,45.80L336.13,43.20" stroke="#222222" stroke-width="0.8"/>
<path d="M336.72,50.20L339.32,52.80M336.72,52.80L339.32,50.20" stroke="#222222" stroke-width="0.8"/>
<path d="M339.91,52.20L342.51,54.80M339.91,54.80L342.51,52.20" stroke="#222222" stroke-width="0.8"/>
<path d="M343.10,43.70L345.70,46.30M343.10,46.30L345.70,43.70" stroke="#222222" stroke-width="0.8"/>
<path d="M346.29,49.70L348.89,52.30M346.29,52.30L348.89,49.70" stroke="#222222" stroke-width="0.8"/>
<path d="M349.48,54.70L352.08,57.30M349.48,57.30L352.08,54.70" stroke="#222222" stroke-width="0.8"/>
<path d="M352.66,41.20L355.26,43.80M352.66,43.80L355.26,41.20" stroke="#222222" stroke-width="0.8"/>
<path d="M355.85,52.70L358.45,55.30M355.85,55.30L358.45,52.70" stroke="#222222" stroke-width="0.8"/>
<path d="M359.04,45.70L361.64,48.30M359.04,48.30L361.64,45.70" stroke="#222222" stroke-width="0.8"/>
<path d="M362.23,52.70L364.83,55.30M362.23,55.30L364.83,52.70" stroke="#222222" stroke-width="0.8"/>
<path d="M365.42,56.70L368.02,59.30M365.42,59.30L368.02,56.70" stroke="#222222" stroke-width="0.8"/>
<path d="M368.61,41.70L371.21,44.30M368.61,44.30L371.21,41.70" stroke="#222222" stroke-width="0.8"/>
<path d="M371.80,52.20L374.40,54.80M371.80,54.80L374.40,52.20" stroke="#222222" stroke-width="0.8"/>
<path d="M374.99,46.50L377.59,49.10M374.99,49.10L377.59,46.50" stroke="#222222" stroke-width="0.8"/>
<path d="M378.18,41.40L380.78,44.00M378.18,44.00L380.78,41.40" stroke="#222222" stroke-width="0.8"/>
<path d="M381.37,41.40L383.97,44.00M381.37,44.00L383.97,41.40" stroke="#222222" stroke-width="0.8"/>
<path d="M384.56,51.70L387.16,54.30M384.56,54.30L387.16,51.70" stroke="#222222" stroke-width="0.8"/>
<path d="M387.75,40.20L390.35,42.80M387.75,42.80L390.35,40.20" stroke="#222222" stroke-width="0.8"/>
<path d="M390.94,45.20L393.54,47.80M390.94,47.80L393.54,45.20" stroke="#222222" stroke-width="0.8"/>
<path d="M394.13,51.00L396.73,53.60M394.13,53.60L396.73,51.00" stroke="#222222" stroke-width="0.8"/>
<path d="M397.32,40.20L399.92,42.80M397.32,42.80L399.92,40.20" stroke="#222222" stroke-width="0.8"/>
<path d="M400.51,46.50L403.11,49.10M400.51,49.10L403.11,46.50" stroke="#222222" stroke-width="0.8"/>
<polyline points="255.09,70.50 258.28,69.50 261.47,58.50 264.66,72.50 267.85,65.00 271.04,75.00 274.23,56.50 277.42,73.00 280.61,72.00 283.80,65.50 286.99,52.50 290.18,56.50 293.37,61.00 296.56,69.00 299.75,65.00 302.94,64.00 306.12,65.00 309.31,74.00 312.50,69.00 315.69,61.50 318.88,52.50 322.07,64.00 325.26,64.50 328.45,63.00 331.64,60.50 334.83,55.50 338.02,66.50 341.21,72.50 344.40,61.50 347.59,66.50 350.78,70.50 353.96,55.50 357.15,72.00 360.34,59.00 363.53,66.50 366.72,71.00 369.91,59.00 373.10,67.50 376.29,60.00 379.48,60.00 382.67,61.00 385.86,67.00 389.05,62.50 392.24,56.00 395.43,67.00 398.62,54.80 401.81,60.50" fill="none" stroke="#5050ff" stroke-width="0.9" stroke-linejoin="round" opacity="1"/>
<circle cx="255.09" cy="70.50" r="1.45" fill="#0000e0"/>
<circle cx="258.28" cy="69.50" r="1.45" fill="#0000e0"/>
<circle cx="261.47" cy="58.50" r="1.45" fill="#0000e0"/>
<circle cx="264.66" cy="72.50" r="1.45" fill="#0000e0"/>
<circle cx="267.85" cy="65.00" r="1.45" fill="#0000e0"/>
<circle cx="271.04" cy="75.00" r="1.45" fill="#0000e0"/>
<circle cx="274.23" cy="56.50" r="1.45" fill="#0000e0"/>
<circle cx="277.42" cy="73.00" r="1.45" fill="#0000e0"/>
<circle cx="280.61" cy="72.00" r="1.45" fill="#0000e0"/>
<circle cx="283.80" cy="65.50" r="1.45" fill="#0000e0"/>
<circle cx="286.99" cy="52.50" r="1.45" fill="#0000e0"/>
<circle cx="290.18" cy="56.50" r="1.45" fill="#0000e0"/>
<circle cx="293.37" cy="61.00" r="1.45" fill="#0000e0"/>
<circle cx="296.56" cy="69.00" r="1.45" fill="#0000e0"/>
<circle cx="299.75" cy="65.00" r="1.45" fill="#0000e0"/>
<circle cx="302.94" cy="64.00" r="1.45" fill="#0000e0"/>
<circle cx="306.12" cy="65.00" r="1.45" fill="#0000e0"/>
<circle cx="309.31" cy="74.00" r="1.45" fill="#0000e0"/>
<circle cx="312.50" cy="69.00" r="1.45" fill="#0000e0"/>
<circle cx="315.69" cy="61.50" r="1.45" fill="#0000e0"/>
<circle cx="318.88" cy="52.50" r="1.45" fill="#0000e0"/>
<circle cx="322.07" cy="64.00" r="1.45" fill="#0000e0"/>
<circle cx="325.26" cy="64.50" r="1.45" fill="#0000e0"/>
<circle cx="328.45" cy="63.00" r="1.45" fill="#0000e0"/>
<circle cx="331.64" cy="60.50" r="1.45" fill="#0000e0"/>
<circle cx="334.83" cy="55.50" r="1.45" fill="#0000e0"/>
<circle cx="338.02" cy="66.50" r="1.45" fill="#0000e0"/>
<circle cx="341.21" cy="72.50" r="1.45" fill="#0000e0"/>
<circle cx="344.40" cy="61.50" r="1.45" fill="#0000e0"/>
<circle cx="347.59" cy="66.50" r="1.45" fill="#0000e0"/>
<circle cx="350.78" cy="70.50" r="1.45" fill="#0000e0"/>
<circle cx="353.96" cy="55.50" r="1.45" fill="#0000e0"/>
<circle cx="357.15" cy="72.00" r="1.45" fill="#0000e0"/>
<circle cx="360.34" cy="59.00" r="1.45" fill="#0000e0"/>
<circle cx="363.53" cy="66.50" r="1.45" fill="#0000e0"/>
<circle cx="366.72" cy="71.00" r="1.45" fill="#0000e0"/>
<circle cx="369.91" cy="59.00" r="1.45" fill="#0000e0"/>
<circle cx="373.10" cy="67.50" r="1.45" fill="#0000e0"/>
<circle cx="376.29" cy="60.00" r="1.45" fill="#0000e0"/>
<circle cx="379.48" cy="60.00" r="1.45" fill="#0000e0"/>
<circle cx="382.67" cy="61.00" r="1.45" fill="#0000e0"/>
<circle cx="385.86" cy="67.00" r="1.45" fill="#0000e0"/>
<circle cx="389.05" cy="62.50" r="1.45" fill="#0000e0"/>
<circle cx="392.24" cy="56.00" r="1.45" fill="#0000e0"/>
<circle cx="395.43" cy="67.00" r="1.45" fill="#0000e0"/>
<circle cx="398.62" cy="54.80" r="1.45" fill="#0000e0"/>
<circle cx="401.81" cy="60.50" r="1.45" fill="#0000e0"/>
<polyline points="255.09,68.00 258.28,76.50 261.47,73.00 264.66,70.00 267.85,63.00 271.04,64.50 274.23,68.00 277.42,70.50 280.61,59.50 283.80,69.00 286.99,56.50 290.18,64.00 293.37,67.50 296.56,72.50 299.75,58.00 302.94,69.50 306.12,65.50 309.31,66.50 312.50,68.00 315.69,57.00 318.88,67.00 322.07,61.00 325.26,59.00 328.45,64.50 331.64,62.00 334.83,57.50 338.02,55.50 341.21,59.00 344.40,66.00 347.59,68.50 350.78,68.50 353.96,61.00 357.15,63.00 360.34,72.00 363.53,58.50 366.72,63.00 369.91,43.40 373.10,61.00 376.29,58.00 379.48,54.00 382.67,58.60 385.86,65.60 389.05,41.50 392.24,77.70 395.43,63.70 398.62,54.80 401.81,71.40" fill="none" stroke="#00e000" stroke-width="1.4" stroke-dasharray="1.2,1.1" stroke-linejoin="round" opacity="1"/>
<path d="M255.09,66.02L256.89,69.44L253.29,69.44Z" fill="#00e000"/>
<path d="M258.28,74.52L260.08,77.94L256.48,77.94Z" fill="#00e000"/>
<path d="M261.47,71.02L263.27,74.44L259.67,74.44Z" fill="#00e000"/>
<path d="M264.66,68.02L266.46,71.44L262.86,71.44Z" fill="#00e000"/>
<path d="M267.85,61.02L269.65,64.44L266.05,64.44Z" fill="#00e000"/>
<path d="M271.04,62.52L272.84,65.94L269.24,65.94Z" fill="#00e000"/>
<path d="M274.23,66.02L276.03,69.44L272.43,69.44Z" fill="#00e000"/>
<path d="M277.42,68.52L279.22,71.94L275.62,71.94Z" fill="#00e000"/>
<path d="M280.61,57.52L282.41,60.94L278.81,60.94Z" fill="#00e000"/>
<path d="M283.80,67.02L285.60,70.44L282.00,70.44Z" fill="#00e000"/>
<path d="M286.99,54.52L288.79,57.94L285.19,57.94Z" fill="#00e000"/>
<path d="M290.18,62.02L291.98,65.44L288.38,65.44Z" fill="#00e000"/>
<path d="M293.37,65.52L295.17,68.94L291.57,68.94Z" fill="#00e000"/>
<path d="M296.56,70.52L298.36,73.94L294.76,73.94Z" fill="#00e000"/>
<path d="M299.75,56.02L301.55,59.44L297.95,59.44Z" fill="#00e000"/>
<path d="M302.94,67.52L304.74,70.94L301.14,70.94Z" fill="#00e000"/>
<path d="M306.12,63.52L307.92,66.94L304.32,66.94Z" fill="#00e000"/>
<path d="M309.31,64.52L311.11,67.94L307.51,67.94Z" fill="#00e000"/>
<path d="M312.50,66.02L314.30,69.44L310.70,69.44Z" fill="#00e000"/>
<path d="M315.69,55.02L317.49,58.44L313.89,58.44Z" fill="#00e000"/>
<path d="M318.88,65.02L320.68,68.44L317.08,68.44Z" fill="#00e000"/>
<path d="M322.07,59.02L323.87,62.44L320.27,62.44Z" fill="#00e000"/>
<path d="M325.26,57.02L327.06,60.44L323.46,60.44Z" fill="#00e000"/>
<path d="M328.45,62.52L330.25,65.94L326.65,65.94Z" fill="#00e000"/>
<path d="M331.64,60.02L333.44,63.44L329.84,63.44Z" fill="#00e000"/>
<path d="M334.83,55.52L336.63,58.94L333.03,58.94Z" fill="#00e000"/>
<path d="M338.02,53.52L339.82,56.94L336.22,56.94Z" fill="#00e000"/>
<path d="M341.21,57.02L343.01,60.44L339.41,60.44Z" fill="#00e000"/>
<path d="M344.40,64.02L346.20,67.44L342.60,67.44Z" fill="#00e000"/>
<path d="M347.59,66.52L349.39,69.94L345.79,69.94Z" fill="#00e000"/>
<path d="M350.78,66.52L352.58,69.94L348.98,69.94Z" fill="#00e000"/>
<path d="M353.96,59.02L355.76,62.44L352.16,62.44Z" fill="#00e000"/>
<path d="M357.15,61.02L358.95,64.44L355.35,64.44Z" fill="#00e000"/>
<path d="M360.34,70.02L362.14,73.44L358.54,73.44Z" fill="#00e000"/>
<path d="M363.53,56.52L365.33,59.94L361.73,59.94Z" fill="#00e000"/>
<path d="M366.72,61.02L368.52,64.44L364.92,64.44Z" fill="#00e000"/>
<path d="M369.91,41.42L371.71,44.84L368.11,44.84Z" fill="#00e000"/>
<path d="M373.10,59.02L374.90,62.44L371.30,62.44Z" fill="#00e000"/>
<path d="M376.29,56.02L378.09,59.44L374.49,59.44Z" fill="#00e000"/>
<path d="M379.48,52.02L381.28,55.44L377.68,55.44Z" fill="#00e000"/>
<path d="M382.67,56.62L384.47,60.04L380.87,60.04Z" fill="#00e000"/>
<path d="M385.86,63.62L387.66,67.04L384.06,67.04Z" fill="#00e000"/>
<path d="M389.05,39.52L390.85,42.94L387.25,42.94Z" fill="#00e000"/>
<path d="M392.24,75.72L394.04,79.14L390.44,79.14Z" fill="#00e000"/>
<path d="M395.43,61.72L397.23,65.14L393.63,65.14Z" fill="#00e000"/>
<path d="M398.62,52.82L400.42,56.24L396.82,56.24Z" fill="#00e000"/>
<path d="M401.81,69.42L403.61,72.84L400.01,72.84Z" fill="#00e000"/>
<polyline points="255.09,68.50 258.28,75.50 261.47,73.50 264.66,72.00 267.85,66.00 271.04,68.00 274.23,69.50 277.42,69.50 280.61,58.00 283.80,67.00 286.99,53.50 290.18,61.00 293.37,67.00 296.56,72.00 299.75,57.00 302.94,69.00 306.12,65.00 309.31,66.00 312.50,70.50 315.69,56.00 318.88,62.50 322.07,62.00 325.26,60.50 328.45,66.00 331.64,62.00 334.83,58.00 338.02,55.00 341.21,57.50 344.40,69.50 347.59,70.00 350.78,70.00 353.96,61.50 357.15,64.00 360.34,70.00 363.53,59.50 366.72,61.00 369.91,42.70 373.10,62.50 376.29,59.30 379.48,53.50 382.67,59.30 385.86,65.60 389.05,35.00 392.24,81.00 395.43,63.70 398.62,56.70 401.81,72.00" fill="none" stroke="#ff2020" stroke-width="0.95" stroke-linejoin="round" opacity="1"/>
<text x="255.60" y="27.00" font-size="9.6" text-anchor="start" fill="#1a1a1a" stroke="#1a1a1a" stroke-width="0.16" textLength="11.8" lengthAdjust="spacingAndGlyphs" >(b)</text>
<text x="295.67" y="103.60" font-size="9.2" text-anchor="middle" fill="#1a1a1a" stroke="#1a1a1a" stroke-width="0.16" textLength="36" lengthAdjust="spacingAndGlyphs" >Historical</text>
<text x="370.52" y="103.60" font-size="9.2" text-anchor="middle" fill="#1a1a1a" stroke="#1a1a1a" stroke-width="0.16" textLength="23.5" lengthAdjust="spacingAndGlyphs" >Future</text>
<text x="223.60" y="78.00" font-size="8.8" text-anchor="middle" fill="#1a1a1a" stroke="#1a1a1a" stroke-width="0.1" textLength="91.5" lengthAdjust="spacingAndGlyphs" transform="rotate(-90 223.60 78.00)" >Precipitation (mm/year)</text>
<polyline points="66.00,148.20 86.00,148.20" fill="none" stroke="#222222" stroke-width="0.95" stroke-dasharray="1.1,0.9" stroke-linejoin="round" opacity="1"/>
<path d="M74.70,146.90L77.30,149.50M74.70,149.50L77.30,146.90" stroke="#222222" stroke-width="0.8"/>
<text x="90.00" y="150.90" font-size="8.6" text-anchor="start" fill="#1a1a1a" stroke="#1a1a1a" stroke-width="0.16" textLength="31" lengthAdjust="spacingAndGlyphs" >WRF-raw</text>
<polyline points="133.60,148.20 153.60,148.20" fill="none" stroke="#5050ff" stroke-width="1.0" stroke-linejoin="round" opacity="1"/>
<circle cx="143.60" cy="148.20" r="1.4" fill="#0000e0"/>
<text x="156.00" y="150.90" font-size="8.6" text-anchor="start" fill="#1a1a1a" stroke="#1a1a1a" stroke-width="0.16" textLength="31" lengthAdjust="spacingAndGlyphs" >WRF-DM</text>
<polyline points="199.00,148.20 219.00,148.20" fill="none" stroke="#00e000" stroke-width="1.25" stroke-dasharray="1.2,0.9" stroke-linejoin="round" opacity="1"/>
<path d="M210.00,146.33L211.70,149.56L208.30,149.56Z" fill="#00e000"/>
<text x="222.60" y="150.90" font-size="8.6" text-anchor="start" fill="#1a1a1a" stroke="#1a1a1a" stroke-width="0.16" textLength="43.5" lengthAdjust="spacingAndGlyphs" >RegCM4-raw</text>
<polyline points="280.00,148.20 299.00,148.20" fill="none" stroke="#f06868" stroke-width="1.0" stroke-linejoin="round" opacity="1"/>
<text x="302.00" y="150.90" font-size="8.6" text-anchor="start" fill="#1a1a1a" stroke="#1a1a1a" stroke-width="0.16" textLength="44" lengthAdjust="spacingAndGlyphs" >RegCM4-DM</text>
<rect x="54.78" y="252.18" width="3.57" height="7.22" fill="#0000ff" stroke="#000050" stroke-width="0.35"/>
<rect x="58.36" y="252.69" width="3.57" height="6.71" fill="#ff0000" stroke="#500000" stroke-width="0.35"/>
<rect x="66.70" y="252.18" width="3.57" height="7.22" fill="#0000ff" stroke="#000050" stroke-width="0.35"/>
<rect x="70.28" y="252.52" width="3.57" height="6.88" fill="#ff0000" stroke="#500000" stroke-width="0.35"/>
<rect x="78.62" y="242.37" width="3.57" height="17.03" fill="#0000ff" stroke="#000050" stroke-width="0.35"/>
<rect x="82.19" y="242.37" width="3.57" height="17.03" fill="#ff0000" stroke="#500000" stroke-width="0.35"/>
<rect x="90.53" y="231.02" width="3.57" height="28.38" fill="#0000ff" stroke="#000050" stroke-width="0.35"/>
<rect x="94.11" y="231.54" width="3.57" height="27.86" fill="#ff0000" stroke="#500000" stroke-width="0.35"/>
<rect x="102.45" y="220.18" width="3.57" height="39.22" fill="#0000ff" stroke="#000050" stroke-width="0.35"/>
<rect x="106.03" y="221.22" width="3.57" height="38.18" fill="#ff0000" stroke="#500000" stroke-width="0.35"/>
<rect x="114.37" y="216.74" width="3.57" height="42.66" fill="#0000ff" stroke="#000050" stroke-width="0.35"/>
<rect x="117.94" y="218.12" width="3.57" height="41.28" fill="#ff0000" stroke="#500000" stroke-width="0.35"/>
<rect x="126.28" y="221.22" width="3.57" height="38.18" fill="#0000ff" stroke="#000050" stroke-width="0.35"/>
<rect x="129.86" y="223.28" width="3.57" height="36.12" fill="#ff0000" stroke="#500000" stroke-width="0.35"/>
<rect x="138.20" y="225.69" width="3.57" height="33.71" fill="#0000ff" stroke="#000050" stroke-width="0.35"/>
<rect x="141.78" y="228.10" width="3.57" height="31.30" fill="#ff0000" stroke="#500000" stroke-width="0.35"/>
<rect x="150.12" y="232.91" width="3.57" height="26.49" fill="#0000ff" stroke="#000050" stroke-width="0.35"/>
<rect x="153.69" y="233.43" width="3.57" height="25.97" fill="#ff0000" stroke="#500000" stroke-width="0.35"/>
<rect x="162.03" y="240.62" width="3.57" height="18.78" fill="#0000ff" stroke="#000050" stroke-width="0.35"/>
<rect x="165.61" y="241.34" width="3.57" height="18.06" fill="#ff0000" stroke="#500000" stroke-width="0.35"/>
<rect x="173.95" y="243.06" width="3.57" height="16.34" fill="#0000ff" stroke="#000050" stroke-width="0.35"/>
<rect x="177.53" y="242.37" width="3.57" height="17.03" fill="#ff0000" stroke="#500000" stroke-width="0.35"/>
<rect x="185.87" y="250.94" width="3.57" height="8.46" fill="#0000ff" stroke="#000050" stroke-width="0.35"/>
<rect x="189.44" y="251.49" width="3.57" height="7.91" fill="#ff0000" stroke="#500000" stroke-width="0.35"/>
<path d="M64.32,259.40V258.00M76.23,259.40V258.00M88.15,259.40V258.00M100.07,259.40V258.00M111.98,259.40V258.00M123.90,259.40V258.00M135.82,259.40V258.00M147.73,259.40V258.00M159.65,259.40V258.00M171.57,259.40V258.00M183.48,259.40V258.00" stroke="#999" stroke-width="0.6"/>
<path d="M52.40,259.40H54.40M52.40,242.20H54.40M52.40,225.00H54.40M52.40,207.80H54.40M52.40,190.60H54.40" stroke="#5a5a5a" stroke-width="0.8"/>
<rect x="52.40" y="190.60" width="143.00" height="68.80" fill="none" stroke="#5a5a5a" stroke-width="1.1"/>
<text x="44.60" y="261.90" font-size="8" text-anchor="end" fill="#1a1a1a" stroke="#1a1a1a" stroke-width="0.16" >0</text>
<text x="44.60" y="244.70" font-size="8" text-anchor="end" fill="#1a1a1a" stroke="#1a1a1a" stroke-width="0.16" >50</text>
<text x="44.60" y="227.50" font-size="8" text-anchor="end" fill="#1a1a1a" stroke="#1a1a1a" stroke-width="0.16" >100</text>
<text x="44.60" y="210.30" font-size="8" text-anchor="end" fill="#1a1a1a" stroke="#1a1a1a" stroke-width="0.16" >150</text>
<text x="44.60" y="193.10" font-size="8" text-anchor="end" fill="#1a1a1a" stroke="#1a1a1a" stroke-width="0.16" >200</text>
<text x="58.36" y="273.60" font-size="8.2" text-anchor="middle" fill="#1a1a1a" stroke="#1a1a1a" stroke-width="0.16" >1</text>
<text x="70.28" y="273.60" font-size="8.2" text-anchor="middle" fill="#1a1a1a" stroke="#1a1a1a" stroke-width="0.16" >2</text>
<text x="82.19" y="273.60" font-size="8.2" text-anchor="middle" fill="#1a1a1a" stroke="#1a1a1a" stroke-width="0.16" >3</text>
<text x="94.11" y="273.60" font-size="8.2" text-anchor="middle" fill="#1a1a1a" stroke="#1a1a1a" stroke-width="0.16" >4</text>
<text x="106.03" y="273.60" font-size="8.2" text-anchor="middle" fill="#1a1a1a" stroke="#1a1a1a" stroke-width="0.16" >5</text>
<text x="117.94" y="273.60" font-size="8.2" text-anchor="middle" fill="#1a1a1a" stroke="#1a1a1a" stroke-width="0.16" >6</text>
<text x="129.86" y="273.60" font-size="8.2" text-anchor="middle" fill="#1a1a1a" stroke="#1a1a1a" stroke-width="0.16" >7</text>
<text x="141.78" y="273.60" font-size="8.2" text-anchor="middle" fill="#1a1a1a" stroke="#1a1a1a" stroke-width="0.16" >8</text>
<text x="153.69" y="273.60" font-size="8.2" text-anchor="middle" fill="#1a1a1a" stroke="#1a1a1a" stroke-width="0.16" >9</text>
<text x="165.61" y="273.60" font-size="8.2" text-anchor="middle" fill="#1a1a1a" stroke="#1a1a1a" stroke-width="0.16" >10</text>
<text x="177.53" y="273.60" font-size="8.2" text-anchor="middle" fill="#1a1a1a" stroke="#1a1a1a" stroke-width="0.16" >11</text>
<text x="189.44" y="273.60" font-size="8.2" text-anchor="middle" fill="#1a1a1a" stroke="#1a1a1a" stroke-width="0.16" >12</text>
<polyline points="58.36,249.08 70.28,244.61 82.19,227.75 94.11,216.74 106.03,200.92 117.94,198.51 129.86,195.42 141.78,218.46 153.69,238.07 165.61,242.20 177.53,245.64 189.44,247.36" fill="none" stroke="#222" stroke-width="0.95" stroke-dasharray="1,1.2" stroke-linejoin="round" opacity="1"/>
<path d="M57.21,247.93L59.51,250.23M57.21,250.23L59.51,247.93" stroke="#222222" stroke-width="0.8"/>
<path d="M69.12,243.46L71.43,245.76M69.12,245.76L71.43,243.46" stroke="#222222" stroke-width="0.8"/>
<path d="M81.04,226.60L83.34,228.90M81.04,228.90L83.34,226.60" stroke="#222222" stroke-width="0.8"/>
<path d="M92.96,215.59L95.26,217.89M92.96,217.89L95.26,215.59" stroke="#222222" stroke-width="0.8"/>
<path d="M104.88,199.77L107.18,202.07M104.88,202.07L107.18,199.77" stroke="#222222" stroke-width="0.8"/>
<path d="M116.79,197.36L119.09,199.66M116.79,199.66L119.09,197.36" stroke="#222222" stroke-width="0.8"/>
<path d="M128.71,194.27L131.01,196.57M128.71,196.57L131.01,194.27" stroke="#222222" stroke-width="0.8"/>
<path d="M140.62,217.31L142.93,219.61M140.62,219.61L142.93,217.31" stroke="#222222" stroke-width="0.8"/>
<path d="M152.54,236.92L154.84,239.22M152.54,239.22L154.84,236.92" stroke="#222222" stroke-width="0.8"/>
<path d="M164.46,241.05L166.76,243.35M164.46,243.35L166.76,241.05" stroke="#222222" stroke-width="0.8"/>
<path d="M176.38,244.49L178.68,246.79M176.38,246.79L178.68,244.49" stroke="#222222" stroke-width="0.8"/>
<path d="M188.29,246.21L190.59,248.51M188.29,248.51L190.59,246.21" stroke="#222222" stroke-width="0.8"/>
<polyline points="58.36,252.69 70.28,249.08 82.19,233.60 94.11,220.70 106.03,221.22 117.94,220.18 129.86,222.25 141.78,231.19 153.69,238.07 165.61,247.36 177.53,249.77 189.44,251.49" fill="none" stroke="#5050ff" stroke-width="0.85" stroke-linejoin="round" opacity="1"/>
<circle cx="58.36" cy="252.69" r="1.4" fill="#0000e0"/>
<circle cx="70.28" cy="249.08" r="1.4" fill="#0000e0"/>
<circle cx="82.19" cy="233.60" r="1.4" fill="#0000e0"/>
<circle cx="94.11" cy="220.70" r="1.4" fill="#0000e0"/>
<circle cx="106.03" cy="221.22" r="1.4" fill="#0000e0"/>
<circle cx="117.94" cy="220.18" r="1.4" fill="#0000e0"/>
<circle cx="129.86" cy="222.25" r="1.4" fill="#0000e0"/>
<circle cx="141.78" cy="231.19" r="1.4" fill="#0000e0"/>
<circle cx="153.69" cy="238.07" r="1.4" fill="#0000e0"/>
<circle cx="165.61" cy="247.36" r="1.4" fill="#0000e0"/>
<circle cx="177.53" cy="249.77" r="1.4" fill="#0000e0"/>
<circle cx="189.44" cy="251.49" r="1.4" fill="#0000e0"/>
<polyline points="58.36,243.71 70.28,240.62 82.19,230.16 94.11,229.13 106.03,223.80 117.94,232.22 129.86,238.07 141.78,239.45 153.69,243.23 165.61,241.00 177.53,246.81 189.44,242.89" fill="none" stroke="#00e000" stroke-width="1.5" stroke-dasharray="1.2,1.2" stroke-linejoin="round" opacity="1"/>
<path d="M58.36,241.62L60.26,245.23L56.46,245.23Z" fill="#00e000"/>
<path d="M70.28,238.53L72.18,242.14L68.38,242.14Z" fill="#00e000"/>
<path d="M82.19,228.07L84.09,231.68L80.29,231.68Z" fill="#00e000"/>
<path d="M94.11,227.04L96.01,230.65L92.21,230.65Z" fill="#00e000"/>
<path d="M106.03,221.71L107.93,225.32L104.12,225.32Z" fill="#00e000"/>
<path d="M117.94,230.13L119.84,233.74L116.04,233.74Z" fill="#00e000"/>
<path d="M129.86,235.98L131.76,239.59L127.96,239.59Z" fill="#00e000"/>
<path d="M141.78,237.36L143.68,240.97L139.88,240.97Z" fill="#00e000"/>
<path d="M153.69,241.14L155.59,244.75L151.79,244.75Z" fill="#00e000"/>
<path d="M165.61,238.91L167.51,242.52L163.71,242.52Z" fill="#00e000"/>
<path d="M177.53,244.72L179.43,248.33L175.62,248.33Z" fill="#00e000"/>
<path d="M189.44,240.80L191.34,244.41L187.54,244.41Z" fill="#00e000"/>
<polyline points="58.36,250.28 70.28,245.47 82.19,234.12 94.11,234.12 106.03,223.28 117.94,229.13 129.86,233.94 141.78,237.04 153.69,241.51 165.61,237.56 177.53,249.77 189.44,250.80" fill="none" stroke="#ff2020" stroke-width="1.3" stroke-linejoin="round" opacity="1"/>
<text x="53.40" y="186.60" font-size="9.6" text-anchor="start" fill="#1a1a1a" stroke="#1a1a1a" stroke-width="0.16" textLength="11.8" lengthAdjust="spacingAndGlyphs" >(c)</text>
<text x="15.00" y="225.30" font-size="8.6" text-anchor="middle" fill="#1a1a1a" stroke="#1a1a1a" stroke-width="0.1" textLength="48.6" lengthAdjust="spacingAndGlyphs" transform="rotate(-90 15.00 225.30)" >Precipitation</text>
<text x="26.60" y="225.30" font-size="8.6" text-anchor="middle" fill="#1a1a1a" stroke="#1a1a1a" stroke-width="0.1" textLength="47.6" lengthAdjust="spacingAndGlyphs" transform="rotate(-90 26.60 225.30)" >(mm/month)</text>
<rect x="262.78" y="252.18" width="3.58" height="7.22" fill="#0000ff" stroke="#000050" stroke-width="0.35"/>
<rect x="266.36" y="252.69" width="3.58" height="6.71" fill="#ff0000" stroke="#500000" stroke-width="0.35"/>
<rect x="274.71" y="251.83" width="3.58" height="7.57" fill="#0000ff" stroke="#000050" stroke-width="0.35"/>
<rect x="278.29" y="252.18" width="3.58" height="7.22" fill="#ff0000" stroke="#500000" stroke-width="0.35"/>
<rect x="286.63" y="242.37" width="3.58" height="17.03" fill="#0000ff" stroke="#000050" stroke-width="0.35"/>
<rect x="290.21" y="242.37" width="3.58" height="17.03" fill="#ff0000" stroke="#500000" stroke-width="0.35"/>
<rect x="298.56" y="230.16" width="3.58" height="29.24" fill="#0000ff" stroke="#000050" stroke-width="0.35"/>
<rect x="302.14" y="230.16" width="3.58" height="29.24" fill="#ff0000" stroke="#500000" stroke-width="0.35"/>
<rect x="310.49" y="220.70" width="3.58" height="38.70" fill="#0000ff" stroke="#000050" stroke-width="0.35"/>
<rect x="314.06" y="221.22" width="3.58" height="38.18" fill="#ff0000" stroke="#500000" stroke-width="0.35"/>
<rect x="322.41" y="216.74" width="3.58" height="42.66" fill="#0000ff" stroke="#000050" stroke-width="0.35"/>
<rect x="325.99" y="219.15" width="3.58" height="40.25" fill="#ff0000" stroke="#500000" stroke-width="0.35"/>
<rect x="334.34" y="220.70" width="3.58" height="38.70" fill="#0000ff" stroke="#000050" stroke-width="0.35"/>
<rect x="337.91" y="222.94" width="3.58" height="36.46" fill="#ff0000" stroke="#500000" stroke-width="0.35"/>
<rect x="346.26" y="225.00" width="3.58" height="34.40" fill="#0000ff" stroke="#000050" stroke-width="0.35"/>
<rect x="349.84" y="226.89" width="3.58" height="32.51" fill="#ff0000" stroke="#500000" stroke-width="0.35"/>
<rect x="358.19" y="232.81" width="3.58" height="26.59" fill="#0000ff" stroke="#000050" stroke-width="0.35"/>
<rect x="361.76" y="233.43" width="3.58" height="25.97" fill="#ff0000" stroke="#500000" stroke-width="0.35"/>
<rect x="370.11" y="240.00" width="3.58" height="19.40" fill="#0000ff" stroke="#000050" stroke-width="0.35"/>
<rect x="373.69" y="241.00" width="3.58" height="18.40" fill="#ff0000" stroke="#500000" stroke-width="0.35"/>
<rect x="382.04" y="242.89" width="3.58" height="16.51" fill="#0000ff" stroke="#000050" stroke-width="0.35"/>
<rect x="385.61" y="242.37" width="3.58" height="17.03" fill="#ff0000" stroke="#500000" stroke-width="0.35"/>
<rect x="393.96" y="250.90" width="3.58" height="8.50" fill="#0000ff" stroke="#000050" stroke-width="0.35"/>
<rect x="397.54" y="250.28" width="3.58" height="9.12" fill="#ff0000" stroke="#500000" stroke-width="0.35"/>
<path d="M272.32,259.40V258.00M284.25,259.40V258.00M296.17,259.40V258.00M308.10,259.40V258.00M320.02,259.40V258.00M331.95,259.40V258.00M343.88,259.40V258.00M355.80,259.40V258.00M367.73,259.40V258.00M379.65,259.40V258.00M391.58,259.40V258.00" stroke="#999" stroke-width="0.6"/>
<path d="M260.40,259.40H262.40M260.40,242.20H262.40M260.40,225.00H262.40M260.40,207.80H262.40M260.40,190.60H262.40" stroke="#5a5a5a" stroke-width="0.8"/>
<rect x="260.40" y="190.60" width="143.10" height="68.80" fill="none" stroke="#5a5a5a" stroke-width="1.1"/>
<text x="252.80" y="261.90" font-size="8" text-anchor="end" fill="#1a1a1a" stroke="#1a1a1a" stroke-width="0.16" >0</text>
<text x="252.80" y="244.70" font-size="8" text-anchor="end" fill="#1a1a1a" stroke="#1a1a1a" stroke-width="0.16" >50</text>
<text x="252.80" y="227.50" font-size="8" text-anchor="end" fill="#1a1a1a" stroke="#1a1a1a" stroke-width="0.16" >100</text>
<text x="252.80" y="210.30" font-size="8" text-anchor="end" fill="#1a1a1a" stroke="#1a1a1a" stroke-width="0.16" >150</text>
<text x="252.80" y="193.10" font-size="8" text-anchor="end" fill="#1a1a1a" stroke="#1a1a1a" stroke-width="0.16" >200</text>
<text x="266.36" y="273.60" font-size="8.2" text-anchor="middle" fill="#1a1a1a" stroke="#1a1a1a" stroke-width="0.16" >1</text>
<text x="278.29" y="273.60" font-size="8.2" text-anchor="middle" fill="#1a1a1a" stroke="#1a1a1a" stroke-width="0.16" >2</text>
<text x="290.21" y="273.60" font-size="8.2" text-anchor="middle" fill="#1a1a1a" stroke="#1a1a1a" stroke-width="0.16" >3</text>
<text x="302.14" y="273.60" font-size="8.2" text-anchor="middle" fill="#1a1a1a" stroke="#1a1a1a" stroke-width="0.16" >4</text>
<text x="314.06" y="273.60" font-size="8.2" text-anchor="middle" fill="#1a1a1a" stroke="#1a1a1a" stroke-width="0.16" >5</text>
<text x="325.99" y="273.60" font-size="8.2" text-anchor="middle" fill="#1a1a1a" stroke="#1a1a1a" stroke-width="0.16" >6</text>
<text x="337.91" y="273.60" font-size="8.2" text-anchor="middle" fill="#1a1a1a" stroke="#1a1a1a" stroke-width="0.16" >7</text>
<text x="349.84" y="273.60" font-size="8.2" text-anchor="middle" fill="#1a1a1a" stroke="#1a1a1a" stroke-width="0.16" >8</text>
<text x="361.76" y="273.60" font-size="8.2" text-anchor="middle" fill="#1a1a1a" stroke="#1a1a1a" stroke-width="0.16" >9</text>
<text x="373.69" y="273.60" font-size="8.2" text-anchor="middle" fill="#1a1a1a" stroke="#1a1a1a" stroke-width="0.16" >10</text>
<text x="385.61" y="273.60" font-size="8.2" text-anchor="middle" fill="#1a1a1a" stroke="#1a1a1a" stroke-width="0.16" >11</text>
<text x="397.54" y="273.60" font-size="8.2" text-anchor="middle" fill="#1a1a1a" stroke="#1a1a1a" stroke-width="0.16" >12</text>
<polyline points="266.36,250.94 278.29,242.89 290.21,234.12 302.14,216.74 314.06,204.50 325.99,198.51 337.91,196.79 349.84,211.93 361.76,234.63 373.69,240.48 385.61,243.92 397.54,249.77" fill="none" stroke="#222" stroke-width="0.95" stroke-dasharray="1,1.2" stroke-linejoin="round" opacity="1"/>
<path d="M265.21,249.79L267.51,252.09M265.21,252.09L267.51,249.79" stroke="#222222" stroke-width="0.8"/>
<path d="M277.14,241.74L279.44,244.04M277.14,244.04L279.44,241.74" stroke="#222222" stroke-width="0.8"/>
<path d="M289.06,232.97L291.36,235.27M289.06,235.27L291.36,232.97" stroke="#222222" stroke-width="0.8"/>
<path d="M300.99,215.59L303.29,217.89M300.99,217.89L303.29,215.59" stroke="#222222" stroke-width="0.8"/>
<path d="M312.91,203.35L315.21,205.65M312.91,205.65L315.21,203.35" stroke="#222222" stroke-width="0.8"/>
<path d="M324.84,197.36L327.14,199.66M324.84,199.66L327.14,197.36" stroke="#222222" stroke-width="0.8"/>
<path d="M336.76,195.64L339.06,197.94M336.76,197.94L339.06,195.64" stroke="#222222" stroke-width="0.8"/>
<path d="M348.69,210.78L350.99,213.08M348.69,213.08L350.99,210.78" stroke="#222222" stroke-width="0.8"/>
<path d="M360.61,233.48L362.91,235.78M360.61,235.78L362.91,233.48" stroke="#222222" stroke-width="0.8"/>
<path d="M372.54,239.33L374.84,241.63M372.54,241.63L374.84,239.33" stroke="#222222" stroke-width="0.8"/>
<path d="M384.46,242.77L386.76,245.07M384.46,245.07L386.76,242.77" stroke="#222222" stroke-width="0.8"/>
<path d="M396.39,248.62L398.69,250.92M396.39,250.92L398.69,248.62" stroke="#222222" stroke-width="0.8"/>
<polyline points="266.36,251.49 278.29,248.50 290.21,238.21 302.14,222.01 314.06,217.09 325.99,216.74 337.91,217.43 349.84,222.94 361.76,237.38 373.69,242.89 385.61,250.94 397.54,253.21" fill="none" stroke="#5050ff" stroke-width="0.85" stroke-linejoin="round" opacity="1"/>
<circle cx="266.36" cy="251.49" r="1.4" fill="#0000e0"/>
<circle cx="278.29" cy="248.50" r="1.4" fill="#0000e0"/>
<circle cx="290.21" cy="238.21" r="1.4" fill="#0000e0"/>
<circle cx="302.14" cy="222.01" r="1.4" fill="#0000e0"/>
<circle cx="314.06" cy="217.09" r="1.4" fill="#0000e0"/>
<circle cx="325.99" cy="216.74" r="1.4" fill="#0000e0"/>
<circle cx="337.91" cy="217.43" r="1.4" fill="#0000e0"/>
<circle cx="349.84" cy="222.94" r="1.4" fill="#0000e0"/>
<circle cx="361.76" cy="237.38" r="1.4" fill="#0000e0"/>
<circle cx="373.69" cy="242.89" r="1.4" fill="#0000e0"/>
<circle cx="385.61" cy="250.94" r="1.4" fill="#0000e0"/>
<circle cx="397.54" cy="253.21" r="1.4" fill="#0000e0"/>
<polyline points="266.36,244.61 278.29,240.62 290.21,231.60 302.14,222.59 314.06,222.59 325.99,232.81 337.91,228.10 349.84,228.44 361.76,239.24 373.69,238.24 385.61,242.89 397.54,244.61" fill="none" stroke="#00e000" stroke-width="1.5" stroke-dasharray="1.2,1.2" stroke-linejoin="round" opacity="1"/>
<path d="M266.36,242.52L268.26,246.13L264.46,246.13Z" fill="#00e000"/>
<path d="M278.29,238.53L280.19,242.14L276.39,242.14Z" fill="#00e000"/>
<path d="M290.21,229.51L292.11,233.12L288.31,233.12Z" fill="#00e000"/>
<path d="M302.14,220.50L304.04,224.11L300.24,224.11Z" fill="#00e000"/>
<path d="M314.06,220.50L315.96,224.11L312.16,224.11Z" fill="#00e000"/>
<path d="M325.99,230.72L327.89,234.33L324.09,234.33Z" fill="#00e000"/>
<path d="M337.91,226.01L339.81,229.62L336.01,229.62Z" fill="#00e000"/>
<path d="M349.84,226.35L351.74,229.96L347.94,229.96Z" fill="#00e000"/>
<path d="M361.76,237.15L363.66,240.76L359.86,240.76Z" fill="#00e000"/>
<path d="M373.69,236.15L375.59,239.76L371.79,239.76Z" fill="#00e000"/>
<path d="M385.61,240.80L387.51,244.41L383.71,244.41Z" fill="#00e000"/>
<path d="M397.54,242.52L399.44,246.13L395.64,246.13Z" fill="#00e000"/>
<polyline points="266.36,250.11 278.29,247.36 290.21,235.49 302.14,222.94 314.06,217.91 325.99,226.51 337.91,222.94 349.84,220.18 361.76,238.21 373.69,241.00 385.61,242.89 397.54,249.08" fill="none" stroke="#ff2020" stroke-width="1.3" stroke-linejoin="round" opacity="1"/>
<text x="262.20" y="186.60" font-size="9.6" text-anchor="start" fill="#1a1a1a" stroke="#1a1a1a" stroke-width="0.16" textLength="11.8" lengthAdjust="spacingAndGlyphs" >(d)</text>
<text x="223.60" y="224.80" font-size="8.6" text-anchor="middle" fill="#1a1a1a" stroke="#1a1a1a" stroke-width="0.1" textLength="48.6" lengthAdjust="spacingAndGlyphs" transform="rotate(-90 223.60 224.80)" >Precipitation</text>
<text x="234.60" y="224.80" font-size="8.6" text-anchor="middle" fill="#1a1a1a" stroke="#1a1a1a" stroke-width="0.1" textLength="47.6" lengthAdjust="spacingAndGlyphs" transform="rotate(-90 234.60 224.80)" >(mm/month)</text>
<rect x="49.96" y="371.61" width="3.69" height="6.19" fill="#0000ff" stroke="#000050" stroke-width="0.35"/>
<rect x="53.65" y="370.99" width="3.69" height="6.81" fill="#ff0000" stroke="#500000" stroke-width="0.35"/>
<rect x="62.26" y="371.61" width="3.69" height="6.19" fill="#0000ff" stroke="#000050" stroke-width="0.35"/>
<rect x="65.95" y="370.99" width="3.69" height="6.81" fill="#ff0000" stroke="#500000" stroke-width="0.35"/>
<rect x="74.56" y="359.85" width="3.69" height="17.95" fill="#0000ff" stroke="#000050" stroke-width="0.35"/>
<rect x="78.25" y="361.71" width="3.69" height="16.09" fill="#ff0000" stroke="#500000" stroke-width="0.35"/>
<rect x="86.86" y="362.58" width="3.69" height="15.22" fill="#0000ff" stroke="#000050" stroke-width="0.35"/>
<rect x="90.55" y="365.67" width="3.69" height="12.13" fill="#ff0000" stroke="#500000" stroke-width="0.35"/>
<rect x="99.16" y="354.78" width="3.69" height="23.02" fill="#0000ff" stroke="#000050" stroke-width="0.35"/>
<rect x="102.85" y="360.22" width="3.69" height="17.58" fill="#ff0000" stroke="#500000" stroke-width="0.35"/>
<rect x="111.46" y="348.09" width="3.69" height="29.71" fill="#0000ff" stroke="#000050" stroke-width="0.35"/>
<rect x="115.15" y="352.05" width="3.69" height="25.75" fill="#ff0000" stroke="#500000" stroke-width="0.35"/>
<rect x="123.76" y="357.38" width="3.69" height="20.42" fill="#0000ff" stroke="#000050" stroke-width="0.35"/>
<rect x="127.45" y="363.81" width="3.69" height="13.99" fill="#ff0000" stroke="#500000" stroke-width="0.35"/>
<rect x="136.06" y="363.19" width="3.69" height="14.61" fill="#0000ff" stroke="#000050" stroke-width="0.35"/>
<rect x="139.75" y="368.89" width="3.69" height="8.91" fill="#ff0000" stroke="#500000" stroke-width="0.35"/>
<rect x="148.36" y="370.99" width="3.69" height="6.81" fill="#0000ff" stroke="#000050" stroke-width="0.35"/>
<rect x="152.05" y="371.74" width="3.69" height="6.06" fill="#ff0000" stroke="#500000" stroke-width="0.35"/>
<rect x="160.66" y="374.95" width="3.69" height="2.85" fill="#0000ff" stroke="#000050" stroke-width="0.35"/>
<rect x="164.35" y="375.32" width="3.69" height="2.48" fill="#ff0000" stroke="#500000" stroke-width="0.35"/>
<rect x="172.96" y="373.59" width="3.69" height="4.21" fill="#0000ff" stroke="#000050" stroke-width="0.35"/>
<rect x="176.65" y="373.59" width="3.69" height="4.21" fill="#ff0000" stroke="#500000" stroke-width="0.35"/>
<rect x="185.26" y="372.11" width="3.69" height="5.69" fill="#0000ff" stroke="#000050" stroke-width="0.35"/>
<rect x="188.95" y="372.48" width="3.69" height="5.32" fill="#ff0000" stroke="#500000" stroke-width="0.35"/>
<path d="M59.80,377.80V376.40M72.10,377.80V376.40M84.40,377.80V376.40M96.70,377.80V376.40M109.00,377.80V376.40M121.30,377.80V376.40M133.60,377.80V376.40M145.90,377.80V376.40M158.20,377.80V376.40M170.50,377.80V376.40M182.80,377.80V376.40" stroke="#999" stroke-width="0.6"/>
<path d="M47.50,377.80H49.50M47.50,353.05H49.50M47.50,328.29H49.50" stroke="#5a5a5a" stroke-width="0.8"/>
<rect x="47.50" y="309.60" width="147.60" height="68.20" fill="none" stroke="#5a5a5a" stroke-width="1.1"/>
<text x="39.80" y="380.30" font-size="8" text-anchor="end" fill="#1a1a1a" stroke="#1a1a1a" stroke-width="0.16" >0</text>
<text x="39.80" y="355.55" font-size="8" text-anchor="end" fill="#1a1a1a" stroke="#1a1a1a" stroke-width="0.16" >20</text>
<text x="39.80" y="330.79" font-size="8" text-anchor="end" fill="#1a1a1a" stroke="#1a1a1a" stroke-width="0.16" >40</text>
<text x="53.65" y="391.90" font-size="8.2" text-anchor="middle" fill="#1a1a1a" stroke="#1a1a1a" stroke-width="0.16" >1</text>
<text x="65.95" y="391.90" font-size="8.2" text-anchor="middle" fill="#1a1a1a" stroke="#1a1a1a" stroke-width="0.16" >2</text>
<text x="78.25" y="391.90" font-size="8.2" text-anchor="middle" fill="#1a1a1a" stroke="#1a1a1a" stroke-width="0.16" >3</text>
<text x="90.55" y="391.90" font-size="8.2" text-anchor="middle" fill="#1a1a1a" stroke="#1a1a1a" stroke-width="0.16" >4</text>
<text x="102.85" y="391.90" font-size="8.2" text-anchor="middle" fill="#1a1a1a" stroke="#1a1a1a" stroke-width="0.16" >5</text>
<text x="115.15" y="391.90" font-size="8.2" text-anchor="middle" fill="#1a1a1a" stroke="#1a1a1a" stroke-width="0.16" >6</text>
<text x="127.45" y="391.90" font-size="8.2" text-anchor="middle" fill="#1a1a1a" stroke="#1a1a1a" stroke-width="0.16" >7</text>
<text x="139.75" y="391.90" font-size="8.2" text-anchor="middle" fill="#1a1a1a" stroke="#1a1a1a" stroke-width="0.16" >8</text>
<text x="152.05" y="391.90" font-size="8.2" text-anchor="middle" fill="#1a1a1a" stroke="#1a1a1a" stroke-width="0.16" >9</text>
<text x="164.35" y="391.90" font-size="8.2" text-anchor="middle" fill="#1a1a1a" stroke="#1a1a1a" stroke-width="0.16" >10</text>
<text x="176.65" y="391.90" font-size="8.2" text-anchor="middle" fill="#1a1a1a" stroke="#1a1a1a" stroke-width="0.16" >11</text>
<text x="188.95" y="391.90" font-size="8.2" text-anchor="middle" fill="#1a1a1a" stroke="#1a1a1a" stroke-width="0.16" >12</text>
<polyline points="53.65,364.18 65.95,358.37 78.25,312.20 90.55,333.24 102.85,332.00 115.15,332.00 127.45,328.29 139.75,350.57 152.05,370.99 164.35,375.82 176.65,374.71 188.95,373.47" fill="none" stroke="#222" stroke-width="0.95" stroke-dasharray="1,1.2" stroke-linejoin="round" opacity="1"/>
<path d="M52.50,363.03L54.80,365.33M52.50,365.33L54.80,363.03" stroke="#222222" stroke-width="0.8"/>
<path d="M64.80,357.22L67.10,359.52M64.80,359.52L67.10,357.22" stroke="#222222" stroke-width="0.8"/>
<path d="M77.10,311.05L79.40,313.35M77.10,313.35L79.40,311.05" stroke="#222222" stroke-width="0.8"/>
<path d="M89.40,332.09L91.70,334.39M89.40,334.39L91.70,332.09" stroke="#222222" stroke-width="0.8"/>
<path d="M101.70,330.85L104.00,333.15M101.70,333.15L104.00,330.85" stroke="#222222" stroke-width="0.8"/>
<path d="M114.00,330.85L116.30,333.15M114.00,333.15L116.30,330.85" stroke="#222222" stroke-width="0.8"/>
<path d="M126.30,327.14L128.60,329.44M126.30,329.44L128.60,327.14" stroke="#222222" stroke-width="0.8"/>
<path d="M138.60,349.42L140.90,351.72M138.60,351.72L140.90,349.42" stroke="#222222" stroke-width="0.8"/>
<path d="M150.90,369.84L153.20,372.14M150.90,372.14L153.20,369.84" stroke="#222222" stroke-width="0.8"/>
<path d="M163.20,374.67L165.50,376.97M163.20,376.97L165.50,374.67" stroke="#222222" stroke-width="0.8"/>
<path d="M175.50,373.56L177.80,375.86M175.50,375.86L177.80,373.56" stroke="#222222" stroke-width="0.8"/>
<path d="M187.80,372.32L190.10,374.62M187.80,374.62L190.10,372.32" stroke="#222222" stroke-width="0.8"/>
<polyline points="53.65,372.85 65.95,371.61 78.25,352.30 90.55,352.30 102.85,358.37 115.15,350.57 127.45,358.24 139.75,366.04 152.05,374.09 164.35,375.32 176.65,374.09 188.95,372.85" fill="none" stroke="#5050ff" stroke-width="0.85" stroke-linejoin="round" opacity="1"/>
<circle cx="53.65" cy="372.85" r="1.4" fill="#0000e0"/>
<circle cx="65.95" cy="371.61" r="1.4" fill="#0000e0"/>
<circle cx="78.25" cy="352.30" r="1.4" fill="#0000e0"/>
<circle cx="90.55" cy="352.30" r="1.4" fill="#0000e0"/>
<circle cx="102.85" cy="358.37" r="1.4" fill="#0000e0"/>
<circle cx="115.15" cy="350.57" r="1.4" fill="#0000e0"/>
<circle cx="127.45" cy="358.24" r="1.4" fill="#0000e0"/>
<circle cx="139.75" cy="366.04" r="1.4" fill="#0000e0"/>
<circle cx="152.05" cy="374.09" r="1.4" fill="#0000e0"/>
<circle cx="164.35" cy="375.32" r="1.4" fill="#0000e0"/>
<circle cx="176.65" cy="374.09" r="1.4" fill="#0000e0"/>
<circle cx="188.95" cy="372.85" r="1.4" fill="#0000e0"/>
<polyline points="53.65,359.85 65.95,353.42 78.25,333.49 90.55,352.43 102.85,358.37 115.15,360.22 127.45,368.15 139.75,372.11 152.05,376.81 164.35,376.56 176.65,374.71 188.95,368.15" fill="none" stroke="#00e000" stroke-width="1.5" stroke-dasharray="1.2,1.2" stroke-linejoin="round" opacity="1"/>
<path d="M53.65,357.76L55.55,361.37L51.75,361.37Z" fill="#00e000"/>
<path d="M65.95,351.33L67.85,354.94L64.05,354.94Z" fill="#00e000"/>
<path d="M78.25,331.40L80.15,335.01L76.35,335.01Z" fill="#00e000"/>
<path d="M90.55,350.34L92.45,353.95L88.65,353.95Z" fill="#00e000"/>
<path d="M102.85,356.28L104.75,359.89L100.95,359.89Z" fill="#00e000"/>
<path d="M115.15,358.13L117.05,361.74L113.25,361.74Z" fill="#00e000"/>
<path d="M127.45,366.06L129.35,369.67L125.55,369.67Z" fill="#00e000"/>
<path d="M139.75,370.02L141.65,373.63L137.85,373.63Z" fill="#00e000"/>
<path d="M152.05,374.72L153.95,378.33L150.15,378.33Z" fill="#00e000"/>
<path d="M164.35,374.47L166.25,378.08L162.45,378.08Z" fill="#00e000"/>
<path d="M176.65,372.62L178.55,376.23L174.75,376.23Z" fill="#00e000"/>
<path d="M188.95,366.06L190.85,369.67L187.05,369.67Z" fill="#00e000"/>
<path d="M53.65,370.99 C55.70,370.83 61.85,371.63 65.95,370.00 C70.05,368.37 74.15,361.87 78.25,361.21 C82.35,360.55 86.45,365.05 90.55,366.04 C94.65,367.03 98.75,368.43 102.85,367.16 C106.95,365.88 111.05,358.20 115.15,358.37 C119.25,358.53 123.35,365.71 127.45,368.15 C131.55,370.58 135.65,371.61 139.75,372.97 C143.85,374.33 147.95,375.76 152.05,376.31 C156.15,376.87 160.25,376.71 164.35,376.31 C168.45,375.92 172.55,374.44 176.65,373.96 C180.75,373.49 186.90,373.55 188.95,373.47" fill="none" stroke="#ff2020" stroke-width="1.3" stroke-linejoin="round"/>
<text x="48.80" y="305.20" font-size="9.6" text-anchor="start" fill="#1a1a1a" stroke="#1a1a1a" stroke-width="0.16" textLength="11.8" lengthAdjust="spacingAndGlyphs" >(e)</text>
<text x="14.60" y="344.30" font-size="8.6" text-anchor="middle" fill="#1a1a1a" stroke="#1a1a1a" stroke-width="0.1" textLength="55" lengthAdjust="spacingAndGlyphs" transform="rotate(-90 14.60 344.30)" >Surface Runoff</text>
<text x="26.20" y="344.30" font-size="8.6" text-anchor="middle" fill="#1a1a1a" stroke="#1a1a1a" stroke-width="0.1" textLength="48" lengthAdjust="spacingAndGlyphs" transform="rotate(-90 26.20 344.30)" >(mm/month)</text>
<rect x="257.86" y="374.18" width="3.69" height="3.72" fill="#0000ff" stroke="#000050" stroke-width="0.35"/>
<rect x="261.56" y="371.70" width="3.69" height="6.20" fill="#ff0000" stroke="#500000" stroke-width="0.35"/>
<rect x="270.18" y="368.23" width="3.69" height="9.67" fill="#0000ff" stroke="#000050" stroke-width="0.35"/>
<rect x="273.88" y="369.47" width="3.69" height="8.43" fill="#ff0000" stroke="#500000" stroke-width="0.35"/>
<rect x="282.50" y="358.81" width="3.69" height="19.09" fill="#0000ff" stroke="#000050" stroke-width="0.35"/>
<rect x="286.19" y="360.17" width="3.69" height="17.73" fill="#ff0000" stroke="#500000" stroke-width="0.35"/>
<rect x="294.81" y="362.78" width="3.69" height="15.12" fill="#0000ff" stroke="#000050" stroke-width="0.35"/>
<rect x="298.51" y="365.50" width="3.69" height="12.40" fill="#ff0000" stroke="#500000" stroke-width="0.35"/>
<rect x="307.13" y="357.20" width="3.69" height="20.70" fill="#0000ff" stroke="#000050" stroke-width="0.35"/>
<rect x="310.82" y="358.31" width="3.69" height="19.59" fill="#ff0000" stroke="#500000" stroke-width="0.35"/>
<rect x="319.45" y="346.91" width="3.69" height="30.99" fill="#0000ff" stroke="#000050" stroke-width="0.35"/>
<rect x="323.14" y="352.49" width="3.69" height="25.41" fill="#ff0000" stroke="#500000" stroke-width="0.35"/>
<rect x="331.76" y="354.35" width="3.69" height="23.55" fill="#0000ff" stroke="#000050" stroke-width="0.35"/>
<rect x="335.46" y="360.55" width="3.69" height="17.35" fill="#ff0000" stroke="#500000" stroke-width="0.35"/>
<rect x="344.08" y="364.26" width="3.69" height="13.64" fill="#0000ff" stroke="#000050" stroke-width="0.35"/>
<rect x="347.77" y="368.85" width="3.69" height="9.05" fill="#ff0000" stroke="#500000" stroke-width="0.35"/>
<rect x="356.40" y="371.70" width="3.69" height="6.20" fill="#0000ff" stroke="#000050" stroke-width="0.35"/>
<rect x="360.09" y="369.84" width="3.69" height="8.06" fill="#ff0000" stroke="#500000" stroke-width="0.35"/>
<rect x="368.71" y="375.42" width="3.69" height="2.48" fill="#0000ff" stroke="#000050" stroke-width="0.35"/>
<rect x="372.41" y="375.42" width="3.69" height="2.48" fill="#ff0000" stroke="#500000" stroke-width="0.35"/>
<rect x="381.03" y="373.31" width="3.69" height="4.59" fill="#0000ff" stroke="#000050" stroke-width="0.35"/>
<rect x="384.73" y="373.31" width="3.69" height="4.59" fill="#ff0000" stroke="#500000" stroke-width="0.35"/>
<rect x="393.35" y="370.21" width="3.69" height="7.69" fill="#0000ff" stroke="#000050" stroke-width="0.35"/>
<rect x="397.04" y="371.70" width="3.69" height="6.20" fill="#ff0000" stroke="#500000" stroke-width="0.35"/>
<path d="M267.72,377.90V376.50M280.03,377.90V376.50M292.35,377.90V376.50M304.67,377.90V376.50M316.98,377.90V376.50M329.30,377.90V376.50M341.62,377.90V376.50M353.93,377.90V376.50M366.25,377.90V376.50M378.57,377.90V376.50M390.88,377.90V376.50" stroke="#999" stroke-width="0.6"/>
<path d="M255.40,377.90H257.40M255.40,353.11H257.40M255.40,328.32H257.40" stroke="#5a5a5a" stroke-width="0.8"/>
<rect x="255.40" y="309.60" width="147.80" height="68.30" fill="none" stroke="#5a5a5a" stroke-width="1.1"/>
<text x="247.40" y="380.40" font-size="8" text-anchor="end" fill="#1a1a1a" stroke="#1a1a1a" stroke-width="0.16" >0</text>
<text x="247.40" y="355.61" font-size="8" text-anchor="end" fill="#1a1a1a" stroke="#1a1a1a" stroke-width="0.16" >20</text>
<text x="247.40" y="330.82" font-size="8" text-anchor="end" fill="#1a1a1a" stroke="#1a1a1a" stroke-width="0.16" >40</text>
<text x="261.56" y="391.90" font-size="8.2" text-anchor="middle" fill="#1a1a1a" stroke="#1a1a1a" stroke-width="0.16" >1</text>
<text x="273.88" y="391.90" font-size="8.2" text-anchor="middle" fill="#1a1a1a" stroke="#1a1a1a" stroke-width="0.16" >2</text>
<text x="286.19" y="391.90" font-size="8.2" text-anchor="middle" fill="#1a1a1a" stroke="#1a1a1a" stroke-width="0.16" >3</text>
<text x="298.51" y="391.90" font-size="8.2" text-anchor="middle" fill="#1a1a1a" stroke="#1a1a1a" stroke-width="0.16" >4</text>
<text x="310.82" y="391.90" font-size="8.2" text-anchor="middle" fill="#1a1a1a" stroke="#1a1a1a" stroke-width="0.16" >5</text>
<text x="323.14" y="391.90" font-size="8.2" text-anchor="middle" fill="#1a1a1a" stroke="#1a1a1a" stroke-width="0.16" >6</text>
<text x="335.46" y="391.90" font-size="8.2" text-anchor="middle" fill="#1a1a1a" stroke="#1a1a1a" stroke-width="0.16" >7</text>
<text x="347.77" y="391.90" font-size="8.2" text-anchor="middle" fill="#1a1a1a" stroke="#1a1a1a" stroke-width="0.16" >8</text>
<text x="360.09" y="391.90" font-size="8.2" text-anchor="middle" fill="#1a1a1a" stroke="#1a1a1a" stroke-width="0.16" >9</text>
<text x="372.41" y="391.90" font-size="8.2" text-anchor="middle" fill="#1a1a1a" stroke="#1a1a1a" stroke-width="0.16" >10</text>
<text x="384.73" y="391.90" font-size="8.2" text-anchor="middle" fill="#1a1a1a" stroke="#1a1a1a" stroke-width="0.16" >11</text>
<text x="397.04" y="391.90" font-size="8.2" text-anchor="middle" fill="#1a1a1a" stroke="#1a1a1a" stroke-width="0.16" >12</text>
<polyline points="261.56,371.08 273.88,351.50 286.19,334.52 298.51,339.85 310.82,333.90 323.14,331.29 335.46,325.84 347.77,343.81 360.09,370.83 372.41,376.66 384.73,375.42 397.04,374.18" fill="none" stroke="#222" stroke-width="0.95" stroke-dasharray="1,1.2" stroke-linejoin="round" opacity="1"/>
<path d="M260.41,369.93L262.71,372.23M260.41,372.23L262.71,369.93" stroke="#222222" stroke-width="0.8"/>
<path d="M272.73,350.35L275.02,352.65M272.73,352.65L275.02,350.35" stroke="#222222" stroke-width="0.8"/>
<path d="M285.04,333.37L287.34,335.67M285.04,335.67L287.34,333.37" stroke="#222222" stroke-width="0.8"/>
<path d="M297.36,338.70L299.66,341.00M297.36,341.00L299.66,338.70" stroke="#222222" stroke-width="0.8"/>
<path d="M309.68,332.75L311.97,335.05M309.68,335.05L311.97,332.75" stroke="#222222" stroke-width="0.8"/>
<path d="M321.99,330.14L324.29,332.44M321.99,332.44L324.29,330.14" stroke="#222222" stroke-width="0.8"/>
<path d="M334.31,324.69L336.61,326.99M334.31,326.99L336.61,324.69" stroke="#222222" stroke-width="0.8"/>
<path d="M346.62,342.66L348.92,344.96M346.62,344.96L348.92,342.66" stroke="#222222" stroke-width="0.8"/>
<path d="M358.94,369.68L361.24,371.98M358.94,371.98L361.24,369.68" stroke="#222222" stroke-width="0.8"/>
<path d="M371.26,375.51L373.56,377.81M371.26,377.81L373.56,375.51" stroke="#222222" stroke-width="0.8"/>
<path d="M383.58,374.27L385.88,376.57M383.58,376.57L385.88,374.27" stroke="#222222" stroke-width="0.8"/>
<path d="M395.89,373.03L398.19,375.33M395.89,375.33L398.19,373.03" stroke="#222222" stroke-width="0.8"/>
<polyline points="261.56,377.90 273.88,374.80 286.19,367.24 298.51,362.41 310.82,355.59 323.14,350.63 335.46,348.15 347.77,346.17 360.09,359.55 372.41,373.31 384.73,374.68 397.04,372.94" fill="none" stroke="#5050ff" stroke-width="0.85" stroke-linejoin="round" opacity="1"/>
<circle cx="261.56" cy="377.90" r="1.4" fill="#0000e0"/>
<circle cx="273.88" cy="374.80" r="1.4" fill="#0000e0"/>
<circle cx="286.19" cy="367.24" r="1.4" fill="#0000e0"/>
<circle cx="298.51" cy="362.41" r="1.4" fill="#0000e0"/>
<circle cx="310.82" cy="355.59" r="1.4" fill="#0000e0"/>
<circle cx="323.14" cy="350.63" r="1.4" fill="#0000e0"/>
<circle cx="335.46" cy="348.15" r="1.4" fill="#0000e0"/>
<circle cx="347.77" cy="346.17" r="1.4" fill="#0000e0"/>
<circle cx="360.09" cy="359.55" r="1.4" fill="#0000e0"/>
<circle cx="372.41" cy="373.31" r="1.4" fill="#0000e0"/>
<circle cx="384.73" cy="374.68" r="1.4" fill="#0000e0"/>
<circle cx="397.04" cy="372.94" r="1.4" fill="#0000e0"/>
<polyline points="261.56,361.17 273.88,330.80 286.19,321.50 298.51,339.85 310.82,351.50 323.14,362.65 335.46,363.03 347.77,366.87 360.09,375.54 372.41,376.66 384.73,374.80 397.04,369.84" fill="none" stroke="#00e000" stroke-width="1.5" stroke-dasharray="1.2,1.2" stroke-linejoin="round" opacity="1"/>
<path d="M261.56,359.08L263.46,362.69L259.66,362.69Z" fill="#00e000"/>
<path d="M273.88,328.71L275.77,332.32L271.98,332.32Z" fill="#00e000"/>
<path d="M286.19,319.41L288.09,323.02L284.29,323.02Z" fill="#00e000"/>
<path d="M298.51,337.76L300.41,341.37L296.61,341.37Z" fill="#00e000"/>
<path d="M310.82,349.41L312.72,353.02L308.93,353.02Z" fill="#00e000"/>
<path d="M323.14,360.56L325.04,364.17L321.24,364.17Z" fill="#00e000"/>
<path d="M335.46,360.94L337.36,364.55L333.56,364.55Z" fill="#00e000"/>
<path d="M347.77,364.78L349.67,368.39L345.88,368.39Z" fill="#00e000"/>
<path d="M360.09,373.45L361.99,377.06L358.19,377.06Z" fill="#00e000"/>
<path d="M372.41,374.57L374.31,378.18L370.51,378.18Z" fill="#00e000"/>
<path d="M384.73,372.71L386.62,376.32L382.83,376.32Z" fill="#00e000"/>
<path d="M397.04,367.75L398.94,371.36L395.14,371.36Z" fill="#00e000"/>
<polyline points="261.56,368.98 273.88,356.83 286.19,356.83 298.51,351.87 310.82,343.81 323.14,358.31 335.46,358.31 347.77,357.32 360.09,372.94 372.41,376.41 384.73,373.56 397.04,374.18" fill="none" stroke="#ff2020" stroke-width="1.3" stroke-linejoin="round" opacity="1"/>
<text x="257.20" y="305.20" font-size="9.6" text-anchor="start" fill="#1a1a1a" stroke="#1a1a1a" stroke-width="0.16" textLength="11.8" lengthAdjust="spacingAndGlyphs" >(f)</text>
<text x="222.60" y="344.30" font-size="8.6" text-anchor="middle" fill="#1a1a1a" stroke="#1a1a1a" stroke-width="0.1" textLength="55" lengthAdjust="spacingAndGlyphs" transform="rotate(-90 222.60 344.30)" >Surface Runoff</text>
<text x="234.60" y="344.30" font-size="8.6" text-anchor="middle" fill="#1a1a1a" stroke="#1a1a1a" stroke-width="0.1" textLength="48" lengthAdjust="spacingAndGlyphs" transform="rotate(-90 234.60 344.30)" >(mm/month)</text>
<rect x="54.59" y="493.75" width="3.58" height="2.75" fill="#0000ff" stroke="#000050" stroke-width="0.35"/>
<rect x="58.16" y="493.75" width="3.58" height="2.75" fill="#ff0000" stroke="#500000" stroke-width="0.35"/>
<rect x="66.51" y="493.35" width="3.58" height="3.15" fill="#0000ff" stroke="#000050" stroke-width="0.35"/>
<rect x="70.09" y="492.78" width="3.58" height="3.72" fill="#ff0000" stroke="#500000" stroke-width="0.35"/>
<rect x="78.44" y="488.20" width="3.58" height="8.30" fill="#0000ff" stroke="#000050" stroke-width="0.35"/>
<rect x="82.01" y="489.06" width="3.58" height="7.44" fill="#ff0000" stroke="#500000" stroke-width="0.35"/>
<rect x="90.36" y="489.06" width="3.58" height="7.44" fill="#0000ff" stroke="#000050" stroke-width="0.35"/>
<rect x="93.94" y="490.20" width="3.58" height="6.30" fill="#ff0000" stroke="#500000" stroke-width="0.35"/>
<rect x="102.29" y="483.05" width="3.58" height="13.45" fill="#0000ff" stroke="#000050" stroke-width="0.35"/>
<rect x="105.86" y="484.48" width="3.58" height="12.02" fill="#ff0000" stroke="#500000" stroke-width="0.35"/>
<rect x="114.21" y="477.61" width="3.58" height="18.89" fill="#0000ff" stroke="#000050" stroke-width="0.35"/>
<rect x="117.79" y="477.61" width="3.58" height="18.89" fill="#ff0000" stroke="#500000" stroke-width="0.35"/>
<rect x="126.14" y="479.73" width="3.58" height="16.77" fill="#0000ff" stroke="#000050" stroke-width="0.35"/>
<rect x="129.71" y="480.30" width="3.58" height="16.20" fill="#ff0000" stroke="#500000" stroke-width="0.35"/>
<rect x="138.06" y="485.62" width="3.58" height="10.88" fill="#0000ff" stroke="#000050" stroke-width="0.35"/>
<rect x="141.64" y="485.74" width="3.58" height="10.76" fill="#ff0000" stroke="#500000" stroke-width="0.35"/>
<rect x="149.99" y="491.92" width="3.58" height="4.58" fill="#0000ff" stroke="#000050" stroke-width="0.35"/>
<rect x="153.56" y="490.03" width="3.58" height="6.47" fill="#ff0000" stroke="#500000" stroke-width="0.35"/>
<rect x="161.91" y="494.67" width="3.58" height="1.83" fill="#0000ff" stroke="#000050" stroke-width="0.35"/>
<rect x="165.49" y="493.75" width="3.58" height="2.75" fill="#ff0000" stroke="#500000" stroke-width="0.35"/>
<rect x="173.84" y="495.07" width="3.58" height="1.43" fill="#0000ff" stroke="#000050" stroke-width="0.35"/>
<rect x="177.41" y="494.67" width="3.58" height="1.83" fill="#ff0000" stroke="#500000" stroke-width="0.35"/>
<rect x="185.76" y="493.75" width="3.58" height="2.75" fill="#0000ff" stroke="#000050" stroke-width="0.35"/>
<rect x="189.34" y="493.75" width="3.58" height="2.75" fill="#ff0000" stroke="#500000" stroke-width="0.35"/>
<path d="M64.12,496.50V495.10M76.05,496.50V495.10M87.98,496.50V495.10M99.90,496.50V495.10M111.83,496.50V495.10M123.75,496.50V495.10M135.68,496.50V495.10M147.60,496.50V495.10M159.53,496.50V495.10M171.45,496.50V495.10M183.38,496.50V495.10" stroke="#999" stroke-width="0.6"/>
<path d="M52.20,496.50H54.20M52.20,467.88H54.20M52.20,439.25H54.20" stroke="#5a5a5a" stroke-width="0.8"/>
<rect x="52.20" y="427.80" width="143.10" height="68.70" fill="none" stroke="#5a5a5a" stroke-width="1.1"/>
<text x="44.40" y="499.00" font-size="8" text-anchor="end" fill="#1a1a1a" stroke="#1a1a1a" stroke-width="0.16" >0</text>
<text x="44.40" y="470.38" font-size="8" text-anchor="end" fill="#1a1a1a" stroke="#1a1a1a" stroke-width="0.16" >50</text>
<text x="44.40" y="441.75" font-size="8" text-anchor="end" fill="#1a1a1a" stroke="#1a1a1a" stroke-width="0.16" >100</text>
<text x="58.16" y="511.00" font-size="8.2" text-anchor="middle" fill="#1a1a1a" stroke="#1a1a1a" stroke-width="0.16" >1</text>
<text x="70.09" y="511.00" font-size="8.2" text-anchor="middle" fill="#1a1a1a" stroke="#1a1a1a" stroke-width="0.16" >2</text>
<text x="82.01" y="511.00" font-size="8.2" text-anchor="middle" fill="#1a1a1a" stroke="#1a1a1a" stroke-width="0.16" >3</text>
<text x="93.94" y="511.00" font-size="8.2" text-anchor="middle" fill="#1a1a1a" stroke="#1a1a1a" stroke-width="0.16" >4</text>
<text x="105.86" y="511.00" font-size="8.2" text-anchor="middle" fill="#1a1a1a" stroke="#1a1a1a" stroke-width="0.16" >5</text>
<text x="117.79" y="511.00" font-size="8.2" text-anchor="middle" fill="#1a1a1a" stroke="#1a1a1a" stroke-width="0.16" >6</text>
<text x="129.71" y="511.00" font-size="8.2" text-anchor="middle" fill="#1a1a1a" stroke="#1a1a1a" stroke-width="0.16" >7</text>
<text x="141.64" y="511.00" font-size="8.2" text-anchor="middle" fill="#1a1a1a" stroke="#1a1a1a" stroke-width="0.16" >8</text>
<text x="153.56" y="511.00" font-size="8.2" text-anchor="middle" fill="#1a1a1a" stroke="#1a1a1a" stroke-width="0.16" >9</text>
<text x="165.49" y="511.00" font-size="8.2" text-anchor="middle" fill="#1a1a1a" stroke="#1a1a1a" stroke-width="0.16" >10</text>
<text x="177.41" y="511.00" font-size="8.2" text-anchor="middle" fill="#1a1a1a" stroke="#1a1a1a" stroke-width="0.16" >11</text>
<text x="189.34" y="511.00" font-size="8.2" text-anchor="middle" fill="#1a1a1a" stroke="#1a1a1a" stroke-width="0.16" >12</text>
<polyline points="58.16,489.06 70.09,488.20 82.01,465.01 93.94,469.19 105.86,455.85 117.79,443.83 129.71,435.99 141.64,450.13 153.56,471.02 165.49,485.45 177.41,493.24 189.34,490.03" fill="none" stroke="#222" stroke-width="0.95" stroke-dasharray="1,1.2" stroke-linejoin="round" opacity="1"/>
<path d="M57.01,487.91L59.31,490.21M57.01,490.21L59.31,487.91" stroke="#222222" stroke-width="0.8"/>
<path d="M68.94,487.05L71.24,489.35M68.94,489.35L71.24,487.05" stroke="#222222" stroke-width="0.8"/>
<path d="M80.86,463.86L83.16,466.16M80.86,466.16L83.16,463.86" stroke="#222222" stroke-width="0.8"/>
<path d="M92.79,468.04L95.09,470.34M92.79,470.34L95.09,468.04" stroke="#222222" stroke-width="0.8"/>
<path d="M104.71,454.70L107.01,457.00M104.71,457.00L107.01,454.70" stroke="#222222" stroke-width="0.8"/>
<path d="M116.64,442.68L118.94,444.98M116.64,444.98L118.94,442.68" stroke="#222222" stroke-width="0.8"/>
<path d="M128.56,434.84L130.86,437.14M128.56,437.14L130.86,434.84" stroke="#222222" stroke-width="0.8"/>
<path d="M140.49,448.98L142.79,451.28M140.49,451.28L142.79,448.98" stroke="#222222" stroke-width="0.8"/>
<path d="M152.41,469.87L154.71,472.17M152.41,472.17L154.71,469.87" stroke="#222222" stroke-width="0.8"/>
<path d="M164.34,484.30L166.64,486.60M164.34,486.60L166.64,484.30" stroke="#222222" stroke-width="0.8"/>
<path d="M176.26,492.09L178.56,494.39M176.26,494.39L178.56,492.09" stroke="#222222" stroke-width="0.8"/>
<path d="M188.19,488.88L190.49,491.18M188.19,491.18L190.49,488.88" stroke="#222222" stroke-width="0.8"/>
<polyline points="58.16,493.75 70.09,492.78 82.01,485.05 93.94,483.62 105.86,484.48 117.79,478.75 129.71,483.05 141.64,490.20 153.56,494.50 165.49,495.36 177.41,495.36 189.34,494.21" fill="none" stroke="#5050ff" stroke-width="0.85" stroke-linejoin="round" opacity="1"/>
<circle cx="58.16" cy="493.75" r="1.4" fill="#0000e0"/>
<circle cx="70.09" cy="492.78" r="1.4" fill="#0000e0"/>
<circle cx="82.01" cy="485.05" r="1.4" fill="#0000e0"/>
<circle cx="93.94" cy="483.62" r="1.4" fill="#0000e0"/>
<circle cx="105.86" cy="484.48" r="1.4" fill="#0000e0"/>
<circle cx="117.79" cy="478.75" r="1.4" fill="#0000e0"/>
<circle cx="129.71" cy="483.05" r="1.4" fill="#0000e0"/>
<circle cx="141.64" cy="490.20" r="1.4" fill="#0000e0"/>
<circle cx="153.56" cy="494.50" r="1.4" fill="#0000e0"/>
<circle cx="165.49" cy="495.36" r="1.4" fill="#0000e0"/>
<circle cx="177.41" cy="495.36" r="1.4" fill="#0000e0"/>
<circle cx="189.34" cy="494.21" r="1.4" fill="#0000e0"/>
<polyline points="58.16,488.77 70.09,485.79 82.01,475.89 93.94,483.33 105.86,479.55 117.79,478.47 129.71,482.76 141.64,490.03 153.56,494.67 165.49,495.93 177.41,495.93 189.34,492.78" fill="none" stroke="#00e000" stroke-width="1.5" stroke-dasharray="1.2,1.2" stroke-linejoin="round" opacity="1"/>
<path d="M58.16,486.68L60.06,490.29L56.26,490.29Z" fill="#00e000"/>
<path d="M70.09,483.70L71.99,487.31L68.19,487.31Z" fill="#00e000"/>
<path d="M82.01,473.80L83.91,477.41L80.11,477.41Z" fill="#00e000"/>
<path d="M93.94,481.24L95.84,484.85L92.04,484.85Z" fill="#00e000"/>
<path d="M105.86,477.46L107.76,481.07L103.96,481.07Z" fill="#00e000"/>
<path d="M117.79,476.38L119.69,479.99L115.89,479.99Z" fill="#00e000"/>
<path d="M129.71,480.67L131.61,484.28L127.81,484.28Z" fill="#00e000"/>
<path d="M141.64,487.94L143.54,491.55L139.74,491.55Z" fill="#00e000"/>
<path d="M153.56,492.58L155.46,496.19L151.66,496.19Z" fill="#00e000"/>
<path d="M165.49,493.84L167.39,497.45L163.59,497.45Z" fill="#00e000"/>
<path d="M177.41,493.84L179.31,497.45L175.51,497.45Z" fill="#00e000"/>
<path d="M189.34,490.69L191.24,494.30L187.44,494.30Z" fill="#00e000"/>
<path d="M58.16,492.78 C60.15,492.73 66.11,493.11 70.09,492.49 C74.06,491.87 78.04,489.31 82.01,489.06 C85.99,488.81 89.96,490.72 93.94,491.00 C97.91,491.29 101.89,491.86 105.86,490.77 C109.84,489.69 113.81,484.57 117.79,484.48 C121.76,484.38 125.74,488.96 129.71,490.20 C133.69,491.44 137.66,491.01 141.64,491.92 C145.61,492.83 149.59,495.02 153.56,495.64 C157.54,496.26 161.51,495.74 165.49,495.64 C169.46,495.55 173.44,495.26 177.41,495.07 C181.39,494.88 187.35,494.59 189.34,494.50" fill="none" stroke="#ff2020" stroke-width="1.3" stroke-linejoin="round"/>
<text x="53.40" y="424.40" font-size="9.6" text-anchor="start" fill="#1a1a1a" stroke="#1a1a1a" stroke-width="0.16" textLength="11.8" lengthAdjust="spacingAndGlyphs" >(g)</text>
<text x="15.00" y="462.20" font-size="8.6" text-anchor="middle" fill="#1a1a1a" stroke="#1a1a1a" stroke-width="0.1" textLength="44" lengthAdjust="spacingAndGlyphs" transform="rotate(-90 15.00 462.20)" >Water Yield</text>
<text x="26.60" y="462.50" font-size="8.6" text-anchor="middle" fill="#1a1a1a" stroke="#1a1a1a" stroke-width="0.1" textLength="47" lengthAdjust="spacingAndGlyphs" transform="rotate(-90 26.60 462.50)" >(mm/month)</text>
<rect x="258.65" y="496.62" width="3.67" height="1.48" fill="#0000ff" stroke="#000050" stroke-width="0.35"/>
<rect x="262.32" y="495.32" width="3.67" height="2.78" fill="#ff0000" stroke="#500000" stroke-width="0.35"/>
<rect x="270.90" y="493.66" width="3.67" height="4.44" fill="#0000ff" stroke="#000050" stroke-width="0.35"/>
<rect x="274.57" y="494.66" width="3.67" height="3.44" fill="#ff0000" stroke="#500000" stroke-width="0.35"/>
<rect x="283.15" y="489.45" width="3.67" height="8.65" fill="#0000ff" stroke="#000050" stroke-width="0.35"/>
<rect x="286.82" y="490.28" width="3.67" height="7.82" fill="#ff0000" stroke="#500000" stroke-width="0.35"/>
<rect x="295.40" y="490.81" width="3.67" height="7.29" fill="#0000ff" stroke="#000050" stroke-width="0.35"/>
<rect x="299.07" y="491.35" width="3.67" height="6.75" fill="#ff0000" stroke="#500000" stroke-width="0.35"/>
<rect x="307.65" y="485.54" width="3.67" height="12.56" fill="#0000ff" stroke="#000050" stroke-width="0.35"/>
<rect x="311.32" y="485.96" width="3.67" height="12.14" fill="#ff0000" stroke="#500000" stroke-width="0.35"/>
<rect x="319.90" y="477.84" width="3.67" height="20.26" fill="#0000ff" stroke="#000050" stroke-width="0.35"/>
<rect x="323.57" y="479.20" width="3.67" height="18.90" fill="#ff0000" stroke="#500000" stroke-width="0.35"/>
<rect x="332.15" y="480.56" width="3.67" height="17.54" fill="#0000ff" stroke="#000050" stroke-width="0.35"/>
<rect x="335.82" y="481.16" width="3.67" height="16.94" fill="#ff0000" stroke="#500000" stroke-width="0.35"/>
<rect x="344.40" y="487.44" width="3.67" height="10.66" fill="#0000ff" stroke="#000050" stroke-width="0.35"/>
<rect x="348.07" y="489.45" width="3.67" height="8.65" fill="#ff0000" stroke="#500000" stroke-width="0.35"/>
<rect x="356.65" y="493.36" width="3.67" height="4.74" fill="#0000ff" stroke="#000050" stroke-width="0.35"/>
<rect x="360.32" y="490.75" width="3.67" height="7.35" fill="#ff0000" stroke="#500000" stroke-width="0.35"/>
<rect x="368.90" y="496.92" width="3.67" height="1.18" fill="#0000ff" stroke="#000050" stroke-width="0.35"/>
<rect x="372.57" y="497.09" width="3.67" height="1.01" fill="#ff0000" stroke="#500000" stroke-width="0.35"/>
<rect x="381.15" y="496.92" width="3.67" height="1.18" fill="#0000ff" stroke="#000050" stroke-width="0.35"/>
<rect x="384.82" y="496.92" width="3.67" height="1.18" fill="#ff0000" stroke="#500000" stroke-width="0.35"/>
<rect x="393.40" y="496.32" width="3.67" height="1.78" fill="#0000ff" stroke="#000050" stroke-width="0.35"/>
<rect x="397.07" y="496.32" width="3.67" height="1.78" fill="#ff0000" stroke="#500000" stroke-width="0.35"/>
<path d="M268.45,498.10V496.70M280.70,498.10V496.70M292.95,498.10V496.70M305.20,498.10V496.70M317.45,498.10V496.70M329.70,498.10V496.70M341.95,498.10V496.70M354.20,498.10V496.70M366.45,498.10V496.70M378.70,498.10V496.70M390.95,498.10V496.70" stroke="#999" stroke-width="0.6"/>
<path d="M256.20,498.10H258.20M256.20,468.48H258.20M256.20,438.86H258.20" stroke="#5a5a5a" stroke-width="0.8"/>
<rect x="256.20" y="427.60" width="147.00" height="70.50" fill="none" stroke="#5a5a5a" stroke-width="1.1"/>
<text x="248.40" y="500.60" font-size="8" text-anchor="end" fill="#1a1a1a" stroke="#1a1a1a" stroke-width="0.16" >0</text>
<text x="248.40" y="470.98" font-size="8" text-anchor="end" fill="#1a1a1a" stroke="#1a1a1a" stroke-width="0.16" >50</text>
<text x="248.40" y="441.36" font-size="8" text-anchor="end" fill="#1a1a1a" stroke="#1a1a1a" stroke-width="0.16" >100</text>
<text x="262.32" y="511.60" font-size="8.2" text-anchor="middle" fill="#1a1a1a" stroke="#1a1a1a" stroke-width="0.16" >1</text>
<text x="274.57" y="511.60" font-size="8.2" text-anchor="middle" fill="#1a1a1a" stroke="#1a1a1a" stroke-width="0.16" >2</text>
<text x="286.82" y="511.60" font-size="8.2" text-anchor="middle" fill="#1a1a1a" stroke="#1a1a1a" stroke-width="0.16" >3</text>
<text x="299.07" y="511.60" font-size="8.2" text-anchor="middle" fill="#1a1a1a" stroke="#1a1a1a" stroke-width="0.16" >4</text>
<text x="311.32" y="511.60" font-size="8.2" text-anchor="middle" fill="#1a1a1a" stroke="#1a1a1a" stroke-width="0.16" >5</text>
<text x="323.57" y="511.60" font-size="8.2" text-anchor="middle" fill="#1a1a1a" stroke="#1a1a1a" stroke-width="0.16" >6</text>
<text x="335.82" y="511.60" font-size="8.2" text-anchor="middle" fill="#1a1a1a" stroke="#1a1a1a" stroke-width="0.16" >7</text>
<text x="348.07" y="511.60" font-size="8.2" text-anchor="middle" fill="#1a1a1a" stroke="#1a1a1a" stroke-width="0.16" >8</text>
<text x="360.32" y="511.60" font-size="8.2" text-anchor="middle" fill="#1a1a1a" stroke="#1a1a1a" stroke-width="0.16" >9</text>
<text x="372.57" y="511.60" font-size="8.2" text-anchor="middle" fill="#1a1a1a" stroke="#1a1a1a" stroke-width="0.16" >10</text>
<text x="384.82" y="511.60" font-size="8.2" text-anchor="middle" fill="#1a1a1a" stroke="#1a1a1a" stroke-width="0.16" >11</text>
<text x="397.07" y="511.60" font-size="8.2" text-anchor="middle" fill="#1a1a1a" stroke="#1a1a1a" stroke-width="0.16" >12</text>
<polyline points="262.32,494.66 274.57,485.96 286.82,476.77 299.07,474.40 311.32,459.00 323.57,447.15 335.82,437.97 348.07,449.22 360.32,472.03 372.57,485.07 384.82,495.49 397.07,495.14" fill="none" stroke="#222" stroke-width="0.95" stroke-dasharray="1,1.2" stroke-linejoin="round" opacity="1"/>
<path d="M261.18,493.51L263.47,495.81M261.18,495.81L263.47,493.51" stroke="#222222" stroke-width="0.8"/>
<path d="M273.43,484.81L275.72,487.11M273.43,487.11L275.72,484.81" stroke="#222222" stroke-width="0.8"/>
<path d="M285.68,475.62L287.97,477.92M285.68,477.92L287.97,475.62" stroke="#222222" stroke-width="0.8"/>
<path d="M297.93,473.25L300.22,475.55M297.93,475.55L300.22,473.25" stroke="#222222" stroke-width="0.8"/>
<path d="M310.18,457.85L312.47,460.15M310.18,460.15L312.47,457.85" stroke="#222222" stroke-width="0.8"/>
<path d="M322.43,446.00L324.72,448.30M322.43,448.30L324.72,446.00" stroke="#222222" stroke-width="0.8"/>
<path d="M334.68,436.82L336.97,439.12M334.68,439.12L336.97,436.82" stroke="#222222" stroke-width="0.8"/>
<path d="M346.93,448.07L349.22,450.37M346.93,450.37L349.22,448.07" stroke="#222222" stroke-width="0.8"/>
<path d="M359.18,470.88L361.47,473.18M359.18,473.18L361.47,470.88" stroke="#222222" stroke-width="0.8"/>
<path d="M371.43,483.92L373.72,486.22M371.43,486.22L373.72,483.92" stroke="#222222" stroke-width="0.8"/>
<path d="M383.68,494.34L385.97,496.64M383.68,496.64L385.97,494.34" stroke="#222222" stroke-width="0.8"/>
<path d="M395.93,493.99L398.22,496.29M395.93,496.29L398.22,493.99" stroke="#222222" stroke-width="0.8"/>
<polyline points="262.32,498.10 274.57,496.62 286.82,494.55 299.07,492.18 311.32,489.21 323.57,480.33 335.82,479.20 348.07,477.19 360.32,484.47 372.57,493.36 384.82,494.25 397.07,495.14" fill="none" stroke="#5050ff" stroke-width="0.85" stroke-linejoin="round" opacity="1"/>
<circle cx="262.32" cy="498.10" r="1.4" fill="#0000e0"/>
<circle cx="274.57" cy="496.62" r="1.4" fill="#0000e0"/>
<circle cx="286.82" cy="494.55" r="1.4" fill="#0000e0"/>
<circle cx="299.07" cy="492.18" r="1.4" fill="#0000e0"/>
<circle cx="311.32" cy="489.21" r="1.4" fill="#0000e0"/>
<circle cx="323.57" cy="480.33" r="1.4" fill="#0000e0"/>
<circle cx="335.82" cy="479.20" r="1.4" fill="#0000e0"/>
<circle cx="348.07" cy="477.19" r="1.4" fill="#0000e0"/>
<circle cx="360.32" cy="484.47" r="1.4" fill="#0000e0"/>
<circle cx="372.57" cy="493.36" r="1.4" fill="#0000e0"/>
<circle cx="384.82" cy="494.25" r="1.4" fill="#0000e0"/>
<circle cx="397.07" cy="495.14" r="1.4" fill="#0000e0"/>
<polyline points="262.32,490.16 274.57,476.36 286.82,469.49 299.07,472.03 311.32,469.07 323.57,473.40 335.82,479.14 348.07,488.03 360.32,494.66 372.57,496.62 384.82,496.20 397.07,494.55" fill="none" stroke="#00e000" stroke-width="1.5" stroke-dasharray="1.2,1.2" stroke-linejoin="round" opacity="1"/>
<path d="M262.32,488.07L264.22,491.68L260.43,491.68Z" fill="#00e000"/>
<path d="M274.57,474.27L276.47,477.88L272.68,477.88Z" fill="#00e000"/>
<path d="M286.82,467.40L288.72,471.01L284.93,471.01Z" fill="#00e000"/>
<path d="M299.07,469.94L300.97,473.55L297.18,473.55Z" fill="#00e000"/>
<path d="M311.32,466.98L313.22,470.59L309.43,470.59Z" fill="#00e000"/>
<path d="M323.57,471.31L325.47,474.92L321.68,474.92Z" fill="#00e000"/>
<path d="M335.82,477.05L337.72,480.66L333.93,480.66Z" fill="#00e000"/>
<path d="M348.07,485.94L349.97,489.55L346.18,489.55Z" fill="#00e000"/>
<path d="M360.32,492.57L362.22,496.18L358.43,496.18Z" fill="#00e000"/>
<path d="M372.57,494.53L374.47,498.14L370.68,498.14Z" fill="#00e000"/>
<path d="M384.82,494.11L386.72,497.72L382.93,497.72Z" fill="#00e000"/>
<path d="M397.07,492.46L398.97,496.07L395.18,496.07Z" fill="#00e000"/>
<path d="M262.32,494.66 C264.37,493.46 270.49,488.94 274.57,487.44 C278.66,485.94 282.74,486.45 286.82,485.66 C290.91,484.87 294.99,484.47 299.07,482.70 C303.16,480.92 307.24,475.78 311.32,474.99 C315.41,474.21 319.49,477.12 323.57,477.96 C327.66,478.80 331.74,479.24 335.82,480.03 C339.91,480.82 343.99,480.48 348.07,482.70 C352.16,484.92 356.24,490.96 360.32,493.36 C364.41,495.76 368.49,496.47 372.57,497.09 C376.66,497.71 380.74,497.12 384.82,497.09 C388.91,497.06 395.03,496.94 397.07,496.92" fill="none" stroke="#ff2020" stroke-width="1.3" stroke-linejoin="round"/>
<text x="259.20" y="423.80" font-size="9.6" text-anchor="start" fill="#1a1a1a" stroke="#1a1a1a" stroke-width="0.16" textLength="11.8" lengthAdjust="spacingAndGlyphs" >(h)</text>
<text x="218.00" y="463.00" font-size="8.6" text-anchor="middle" fill="#1a1a1a" stroke="#1a1a1a" stroke-width="0.1" textLength="44" lengthAdjust="spacingAndGlyphs" transform="rotate(-90 218.00 463.00)" >Water Yield</text>
<text x="230.60" y="463.00" font-size="8.6" text-anchor="middle" fill="#1a1a1a" stroke="#1a1a1a" stroke-width="0.1" textLength="47" lengthAdjust="spacingAndGlyphs" transform="rotate(-90 230.60 463.00)" >(mm/month)</text>
<rect x="50.2" y="523.9" width="20" height="5.5" fill="#0000ff" stroke="#000050" stroke-width="0.6"/>
<text x="72.00" y="529.20" font-size="8.6" text-anchor="start" fill="#1a1a1a" stroke="#1a1a1a" stroke-width="0.16" textLength="67" lengthAdjust="spacingAndGlyphs" >Historical-WRF-DM</text>
<rect x="155.2" y="524.0" width="19.2" height="5.4" fill="#ff0000" stroke="#500000" stroke-width="0.6"/>
<text x="177.00" y="529.20" font-size="8.6" text-anchor="start" fill="#1a1a1a" stroke="#1a1a1a" stroke-width="0.16" textLength="79" lengthAdjust="spacingAndGlyphs" >Historical-RegCM4-DM</text>
<polyline points="259.00,526.60 279.00,526.60" fill="none" stroke="#222222" stroke-width="0.95" stroke-dasharray="1.1,0.9" stroke-linejoin="round" opacity="1"/>
<path d="M267.70,525.30L270.30,527.90M267.70,527.90L270.30,525.30" stroke="#222222" stroke-width="0.8"/>
<text x="282.00" y="529.20" font-size="8.6" text-anchor="start" fill="#1a1a1a" stroke="#1a1a1a" stroke-width="0.16" textLength="57" lengthAdjust="spacingAndGlyphs" >Future-WRF-raw</text>
<polyline points="50.00,541.60 70.00,541.60" fill="none" stroke="#5050ff" stroke-width="1.0" stroke-linejoin="round" opacity="1"/>
<circle cx="60.00" cy="541.60" r="1.4" fill="#0000e0"/>
<text x="72.00" y="544.20" font-size="8.6" text-anchor="start" fill="#1a1a1a" stroke="#1a1a1a" stroke-width="0.16" textLength="57" lengthAdjust="spacingAndGlyphs" >Future-WRF-DM</text>
<polyline points="154.00,541.60 174.00,541.60" fill="none" stroke="#00e000" stroke-width="1.25" stroke-dasharray="1.2,0.9" stroke-linejoin="round" opacity="1"/>
<path d="M164.40,539.73L166.10,542.96L162.70,542.96Z" fill="#00e000"/>
<text x="177.00" y="544.20" font-size="8.6" text-anchor="start" fill="#1a1a1a" stroke="#1a1a1a" stroke-width="0.16" textLength="71" lengthAdjust="spacingAndGlyphs" >Future-RegCM4-raw</text>
<polyline points="259.00,541.60 279.00,541.60" fill="none" stroke="#ff2020" stroke-width="1.3" stroke-linejoin="round" opacity="1"/>
<text x="282.00" y="544.20" font-size="8.6" text-anchor="start" fill="#1a1a1a" stroke="#1a1a1a" stroke-width="0.16" textLength="69" lengthAdjust="spacingAndGlyphs" >Future-RegCM4-DM</text>
</svg></body></html>
